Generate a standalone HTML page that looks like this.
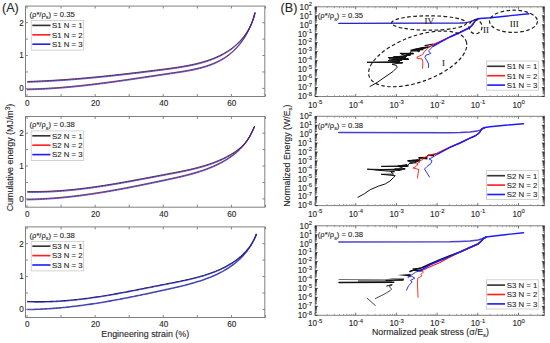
<!DOCTYPE html>
<html><head><meta charset="utf-8"><style>
html,body{margin:0;padding:0;background:#fff;width:550px;height:343px;overflow:hidden}
svg{display:block}
</style></head><body>
<svg width="550" height="343" viewBox="0 0 550 343"><style>text{stroke:#303030;stroke-width:0.12px;paint-order:stroke}</style><path d="M27.33 81.98 L28.94 81.93 L30.54 81.87 L32.13 81.81 L33.73 81.75 L35.32 81.68 L36.91 81.62 L38.5 81.55 L40.09 81.47 L41.67 81.4 L43.25 81.32 L44.83 81.24 L46.41 81.16 L47.99 81.08 L49.56 80.99 L51.13 80.9 L52.7 80.81 L54.27 80.71 L55.84 80.62 L57.4 80.52 L58.97 80.42 L60.53 80.32 L62.09 80.21 L63.65 80.1 L65.21 79.99 L66.76 79.88 L68.32 79.77 L69.87 79.65 L71.43 79.53 L72.98 79.41 L74.53 79.29 L76.08 79.16 L77.63 79.04 L79.18 78.91 L80.73 78.78 L82.27 78.65 L83.82 78.51 L85.37 78.38 L86.91 78.24 L88.46 78.1 L90 77.96 L91.55 77.81 L93.09 77.67 L94.63 77.52 L96.18 77.37 L97.72 77.22 L99.26 77.07 L100.81 76.92 L102.35 76.76 L103.9 76.6 L105.44 76.44 L106.98 76.28 L108.53 76.12 L110.07 75.96 L111.62 75.79 L113.16 75.63 L114.71 75.46 L116.25 75.29 L117.8 75.12 L119.35 74.95 L120.9 74.78 L122.45 74.6 L124 74.42 L125.55 74.25 L127.1 74.07 L128.65 73.89 L130.2 73.71 L131.76 73.53 L133.32 73.34 L134.87 73.16 L136.43 72.97 L137.99 72.78 L139.55 72.6 L141.12 72.41 L142.68 72.22 L144.25 72.03 L145.81 71.83 L147.38 71.64 L148.95 71.45 L150.53 71.25 L152.1 71.06 L153.68 70.86 L155.26 70.66 L156.84 70.46 L158.42 70.26 L160 70.06 L161.59 69.86 L163.18 69.66 L164.77 69.46 L166.36 69.25 L167.95 69.04 L169.54 68.83 L171.14 68.61 L172.73 68.39 L174.31 68.16 L175.9 67.93 L177.49 67.69 L179.07 67.44 L180.65 67.19 L182.23 66.92 L183.8 66.65 L185.37 66.38 L186.94 66.09 L188.5 65.79 L190.05 65.48 L191.6 65.16 L193.14 64.82 L194.68 64.48 L196.21 64.12 L197.73 63.75 L199.24 63.36 L200.75 62.96 L202.25 62.55 L203.73 62.12 L205.21 61.67 L206.68 61.21 L208.14 60.73 L209.59 60.23 L211.02 59.71 L212.45 59.17 L213.86 58.62 L215.26 58.04 L216.64 57.44 L218.02 56.83 L219.38 56.19 L220.72 55.52 L222.05 54.84 L223.37 54.13 L224.67 53.4 L225.96 52.64 L227.23 51.86 L228.48 51.05 L229.71 50.22 L230.93 49.36 L232.13 48.47 L233.31 47.56 L234.47 46.62 L235.6 45.64 L236.72 44.65 L237.82 43.62 L238.89 42.56 L239.94 41.47 L240.97 40.35 L241.98 39.2 L242.95 38.02 L243.91 36.81 L244.84 35.56 L245.74 34.28 L246.61 32.97 L247.46 31.63 L248.27 30.25 L249.06 28.83 L249.82 27.39 L250.55 25.9 L251.25 24.38 L251.91 22.82 L252.54 21.23 L253.15 19.6 L253.71 17.93 L254.25 16.22 L254.74 14.48 L255.21 12.69" fill="none" stroke="#c01818" stroke-width="1.0" opacity="0.85" transform="translate(0,-0.25)"/>
<path d="M27.33 81.98 L28.94 81.93 L30.54 81.87 L32.13 81.81 L33.73 81.75 L35.32 81.68 L36.91 81.62 L38.5 81.55 L40.09 81.47 L41.67 81.4 L43.25 81.32 L44.83 81.24 L46.41 81.16 L47.99 81.08 L49.56 80.99 L51.13 80.9 L52.7 80.81 L54.27 80.71 L55.84 80.62 L57.4 80.52 L58.97 80.42 L60.53 80.32 L62.09 80.21 L63.65 80.1 L65.21 79.99 L66.76 79.88 L68.32 79.77 L69.87 79.65 L71.43 79.53 L72.98 79.41 L74.53 79.29 L76.08 79.16 L77.63 79.04 L79.18 78.91 L80.73 78.78 L82.27 78.65 L83.82 78.51 L85.37 78.38 L86.91 78.24 L88.46 78.1 L90 77.96 L91.55 77.81 L93.09 77.67 L94.63 77.52 L96.18 77.37 L97.72 77.22 L99.26 77.07 L100.81 76.92 L102.35 76.76 L103.9 76.6 L105.44 76.44 L106.98 76.28 L108.53 76.12 L110.07 75.96 L111.62 75.79 L113.16 75.63 L114.71 75.46 L116.25 75.29 L117.8 75.12 L119.35 74.95 L120.9 74.78 L122.45 74.6 L124 74.42 L125.55 74.25 L127.1 74.07 L128.65 73.89 L130.2 73.71 L131.76 73.53 L133.32 73.34 L134.87 73.16 L136.43 72.97 L137.99 72.78 L139.55 72.6 L141.12 72.41 L142.68 72.22 L144.25 72.03 L145.81 71.83 L147.38 71.64 L148.95 71.45 L150.53 71.25 L152.1 71.06 L153.68 70.86 L155.26 70.66 L156.84 70.46 L158.42 70.26 L160 70.06 L161.59 69.86 L163.18 69.66 L164.77 69.46 L166.36 69.25 L167.95 69.04 L169.54 68.83 L171.14 68.61 L172.73 68.39 L174.31 68.16 L175.9 67.93 L177.49 67.69 L179.07 67.44 L180.65 67.19 L182.23 66.92 L183.8 66.65 L185.37 66.38 L186.94 66.09 L188.5 65.79 L190.05 65.48 L191.6 65.16 L193.14 64.82 L194.68 64.48 L196.21 64.12 L197.73 63.75 L199.24 63.36 L200.75 62.96 L202.25 62.55 L203.73 62.12 L205.21 61.67 L206.68 61.21 L208.14 60.73 L209.59 60.23 L211.02 59.71 L212.45 59.17 L213.86 58.62 L215.26 58.04 L216.64 57.44 L218.02 56.83 L219.38 56.19 L220.72 55.52 L222.05 54.84 L223.37 54.13 L224.67 53.4 L225.96 52.64 L227.23 51.86 L228.48 51.05 L229.71 50.22 L230.93 49.36 L232.13 48.47 L233.31 47.56 L234.47 46.62 L235.6 45.64 L236.72 44.65 L237.82 43.62 L238.89 42.56 L239.94 41.47 L240.97 40.35 L241.98 39.2 L242.95 38.02 L243.91 36.81 L244.84 35.56 L245.74 34.28 L246.61 32.97 L247.46 31.63 L248.27 30.25 L249.06 28.83 L249.82 27.39 L250.55 25.9 L251.25 24.38 L251.91 22.82 L252.54 21.23 L253.15 19.6 L253.71 17.93 L254.25 16.22 L254.74 14.48 L255.21 12.69" fill="none" stroke="#141414" stroke-width="0.8" opacity="0.75" transform="translate(0,-0.55)"/>
<path d="M27.33 81.98 L28.94 81.93 L30.54 81.87 L32.13 81.81 L33.73 81.75 L35.32 81.68 L36.91 81.62 L38.5 81.55 L40.09 81.47 L41.67 81.4 L43.25 81.32 L44.83 81.24 L46.41 81.16 L47.99 81.08 L49.56 80.99 L51.13 80.9 L52.7 80.81 L54.27 80.71 L55.84 80.62 L57.4 80.52 L58.97 80.42 L60.53 80.32 L62.09 80.21 L63.65 80.1 L65.21 79.99 L66.76 79.88 L68.32 79.77 L69.87 79.65 L71.43 79.53 L72.98 79.41 L74.53 79.29 L76.08 79.16 L77.63 79.04 L79.18 78.91 L80.73 78.78 L82.27 78.65 L83.82 78.51 L85.37 78.38 L86.91 78.24 L88.46 78.1 L90 77.96 L91.55 77.81 L93.09 77.67 L94.63 77.52 L96.18 77.37 L97.72 77.22 L99.26 77.07 L100.81 76.92 L102.35 76.76 L103.9 76.6 L105.44 76.44 L106.98 76.28 L108.53 76.12 L110.07 75.96 L111.62 75.79 L113.16 75.63 L114.71 75.46 L116.25 75.29 L117.8 75.12 L119.35 74.95 L120.9 74.78 L122.45 74.6 L124 74.42 L125.55 74.25 L127.1 74.07 L128.65 73.89 L130.2 73.71 L131.76 73.53 L133.32 73.34 L134.87 73.16 L136.43 72.97 L137.99 72.78 L139.55 72.6 L141.12 72.41 L142.68 72.22 L144.25 72.03 L145.81 71.83 L147.38 71.64 L148.95 71.45 L150.53 71.25 L152.1 71.06 L153.68 70.86 L155.26 70.66 L156.84 70.46 L158.42 70.26 L160 70.06 L161.59 69.86 L163.18 69.66 L164.77 69.46 L166.36 69.25 L167.95 69.04 L169.54 68.83 L171.14 68.61 L172.73 68.39 L174.31 68.16 L175.9 67.93 L177.49 67.69 L179.07 67.44 L180.65 67.19 L182.23 66.92 L183.8 66.65 L185.37 66.38 L186.94 66.09 L188.5 65.79 L190.05 65.48 L191.6 65.16 L193.14 64.82 L194.68 64.48 L196.21 64.12 L197.73 63.75 L199.24 63.36 L200.75 62.96 L202.25 62.55 L203.73 62.12 L205.21 61.67 L206.68 61.21 L208.14 60.73 L209.59 60.23 L211.02 59.71 L212.45 59.17 L213.86 58.62 L215.26 58.04 L216.64 57.44 L218.02 56.83 L219.38 56.19 L220.72 55.52 L222.05 54.84 L223.37 54.13 L224.67 53.4 L225.96 52.64 L227.23 51.86 L228.48 51.05 L229.71 50.22 L230.93 49.36 L232.13 48.47 L233.31 47.56 L234.47 46.62 L235.6 45.64 L236.72 44.65 L237.82 43.62 L238.89 42.56 L239.94 41.47 L240.97 40.35 L241.98 39.2 L242.95 38.02 L243.91 36.81 L244.84 35.56 L245.74 34.28 L246.61 32.97 L247.46 31.63 L248.27 30.25 L249.06 28.83 L249.82 27.39 L250.55 25.9 L251.25 24.38 L251.91 22.82 L252.54 21.23 L253.15 19.6 L253.71 17.93 L254.25 16.22 L254.74 14.48 L255.21 12.69" fill="none" stroke="#2a2ae8" stroke-width="1.0" opacity="0.8" transform="translate(0,0.35)"/>
<path d="M26.79 89.47 L28.36 89.44 L29.93 89.4 L31.5 89.36 L33.07 89.31 L34.63 89.26 L36.19 89.21 L37.75 89.15 L39.31 89.08 L40.86 89.02 L42.42 88.94 L43.97 88.87 L45.52 88.79 L47.07 88.7 L48.61 88.61 L50.16 88.52 L51.7 88.42 L53.24 88.32 L54.78 88.22 L56.32 88.11 L57.86 88 L59.4 87.88 L60.93 87.76 L62.46 87.64 L63.99 87.51 L65.53 87.38 L67.06 87.25 L68.58 87.12 L70.11 86.98 L71.64 86.83 L73.16 86.69 L74.69 86.54 L76.21 86.39 L77.73 86.23 L79.25 86.08 L80.77 85.92 L82.29 85.75 L83.81 85.59 L85.33 85.42 L86.85 85.25 L88.37 85.07 L89.88 84.9 L91.4 84.72 L92.91 84.54 L94.43 84.36 L95.94 84.17 L97.46 83.98 L98.97 83.79 L100.48 83.6 L102 83.41 L103.51 83.21 L105.02 83.01 L106.53 82.81 L108.05 82.61 L109.56 82.41 L111.07 82.21 L112.58 82 L114.1 81.79 L115.61 81.58 L117.12 81.37 L118.64 81.16 L120.15 80.94 L121.66 80.73 L123.18 80.51 L124.69 80.3 L126.2 80.08 L127.72 79.86 L129.23 79.64 L130.75 79.42 L132.27 79.19 L133.78 78.97 L135.3 78.75 L136.82 78.52 L138.34 78.3 L139.86 78.07 L141.38 77.84 L142.9 77.62 L144.42 77.39 L145.94 77.16 L147.47 76.93 L148.99 76.7 L150.52 76.48 L152.05 76.25 L153.58 76.02 L155.11 75.79 L156.64 75.56 L158.17 75.33 L159.7 75.1 L161.24 74.87 L162.77 74.65 L164.31 74.42 L165.85 74.19 L167.39 73.96 L168.93 73.74 L170.47 73.51 L172.02 73.29 L173.56 73.06 L175.11 72.83 L176.65 72.6 L178.2 72.37 L179.74 72.13 L181.29 71.89 L182.83 71.64 L184.36 71.39 L185.9 71.12 L187.43 70.85 L188.96 70.57 L190.48 70.28 L191.99 69.99 L193.51 69.67 L195.01 69.35 L196.51 69.01 L198 68.66 L199.48 68.29 L200.96 67.91 L202.43 67.51 L203.88 67.1 L205.33 66.66 L206.77 66.21 L208.2 65.73 L209.61 65.24 L211.01 64.72 L212.41 64.18 L213.79 63.62 L215.15 63.03 L216.5 62.42 L217.84 61.78 L219.16 61.11 L220.47 60.42 L221.76 59.7 L223.04 58.95 L224.3 58.17 L225.54 57.36 L226.76 56.51 L227.97 55.63 L229.16 54.72 L230.33 53.78 L231.47 52.81 L232.6 51.81 L233.71 50.78 L234.8 49.72 L235.86 48.63 L236.91 47.51 L237.93 46.37 L238.93 45.21 L239.91 44.01 L240.86 42.8 L241.79 41.56 L242.69 40.3 L243.57 39.02 L244.43 37.72 L245.26 36.39 L246.06 35.05 L246.84 33.69 L247.59 32.32 L248.32 30.92 L249.01 29.51 L249.68 28.09 L250.32 26.65 L250.93 25.19 L251.51 23.73 L252.06 22.25 L252.58 20.76 L253.07 19.26 L253.53 17.75 L253.96 16.24 L254.36 14.71 L254.72 13.18" fill="none" stroke="#c01818" stroke-width="1.0" opacity="0.85" transform="translate(0,-0.25)"/>
<path d="M26.79 89.47 L28.36 89.44 L29.93 89.4 L31.5 89.36 L33.07 89.31 L34.63 89.26 L36.19 89.21 L37.75 89.15 L39.31 89.08 L40.86 89.02 L42.42 88.94 L43.97 88.87 L45.52 88.79 L47.07 88.7 L48.61 88.61 L50.16 88.52 L51.7 88.42 L53.24 88.32 L54.78 88.22 L56.32 88.11 L57.86 88 L59.4 87.88 L60.93 87.76 L62.46 87.64 L63.99 87.51 L65.53 87.38 L67.06 87.25 L68.58 87.12 L70.11 86.98 L71.64 86.83 L73.16 86.69 L74.69 86.54 L76.21 86.39 L77.73 86.23 L79.25 86.08 L80.77 85.92 L82.29 85.75 L83.81 85.59 L85.33 85.42 L86.85 85.25 L88.37 85.07 L89.88 84.9 L91.4 84.72 L92.91 84.54 L94.43 84.36 L95.94 84.17 L97.46 83.98 L98.97 83.79 L100.48 83.6 L102 83.41 L103.51 83.21 L105.02 83.01 L106.53 82.81 L108.05 82.61 L109.56 82.41 L111.07 82.21 L112.58 82 L114.1 81.79 L115.61 81.58 L117.12 81.37 L118.64 81.16 L120.15 80.94 L121.66 80.73 L123.18 80.51 L124.69 80.3 L126.2 80.08 L127.72 79.86 L129.23 79.64 L130.75 79.42 L132.27 79.19 L133.78 78.97 L135.3 78.75 L136.82 78.52 L138.34 78.3 L139.86 78.07 L141.38 77.84 L142.9 77.62 L144.42 77.39 L145.94 77.16 L147.47 76.93 L148.99 76.7 L150.52 76.48 L152.05 76.25 L153.58 76.02 L155.11 75.79 L156.64 75.56 L158.17 75.33 L159.7 75.1 L161.24 74.87 L162.77 74.65 L164.31 74.42 L165.85 74.19 L167.39 73.96 L168.93 73.74 L170.47 73.51 L172.02 73.29 L173.56 73.06 L175.11 72.83 L176.65 72.6 L178.2 72.37 L179.74 72.13 L181.29 71.89 L182.83 71.64 L184.36 71.39 L185.9 71.12 L187.43 70.85 L188.96 70.57 L190.48 70.28 L191.99 69.99 L193.51 69.67 L195.01 69.35 L196.51 69.01 L198 68.66 L199.48 68.29 L200.96 67.91 L202.43 67.51 L203.88 67.1 L205.33 66.66 L206.77 66.21 L208.2 65.73 L209.61 65.24 L211.01 64.72 L212.41 64.18 L213.79 63.62 L215.15 63.03 L216.5 62.42 L217.84 61.78 L219.16 61.11 L220.47 60.42 L221.76 59.7 L223.04 58.95 L224.3 58.17 L225.54 57.36 L226.76 56.51 L227.97 55.63 L229.16 54.72 L230.33 53.78 L231.47 52.81 L232.6 51.81 L233.71 50.78 L234.8 49.72 L235.86 48.63 L236.91 47.51 L237.93 46.37 L238.93 45.21 L239.91 44.01 L240.86 42.8 L241.79 41.56 L242.69 40.3 L243.57 39.02 L244.43 37.72 L245.26 36.39 L246.06 35.05 L246.84 33.69 L247.59 32.32 L248.32 30.92 L249.01 29.51 L249.68 28.09 L250.32 26.65 L250.93 25.19 L251.51 23.73 L252.06 22.25 L252.58 20.76 L253.07 19.26 L253.53 17.75 L253.96 16.24 L254.36 14.71 L254.72 13.18" fill="none" stroke="#141414" stroke-width="0.8" opacity="0.55" transform="translate(0,-0.55)"/>
<path d="M26.79 89.47 L28.36 89.44 L29.93 89.4 L31.5 89.36 L33.07 89.31 L34.63 89.26 L36.19 89.21 L37.75 89.15 L39.31 89.08 L40.86 89.02 L42.42 88.94 L43.97 88.87 L45.52 88.79 L47.07 88.7 L48.61 88.61 L50.16 88.52 L51.7 88.42 L53.24 88.32 L54.78 88.22 L56.32 88.11 L57.86 88 L59.4 87.88 L60.93 87.76 L62.46 87.64 L63.99 87.51 L65.53 87.38 L67.06 87.25 L68.58 87.12 L70.11 86.98 L71.64 86.83 L73.16 86.69 L74.69 86.54 L76.21 86.39 L77.73 86.23 L79.25 86.08 L80.77 85.92 L82.29 85.75 L83.81 85.59 L85.33 85.42 L86.85 85.25 L88.37 85.07 L89.88 84.9 L91.4 84.72 L92.91 84.54 L94.43 84.36 L95.94 84.17 L97.46 83.98 L98.97 83.79 L100.48 83.6 L102 83.41 L103.51 83.21 L105.02 83.01 L106.53 82.81 L108.05 82.61 L109.56 82.41 L111.07 82.21 L112.58 82 L114.1 81.79 L115.61 81.58 L117.12 81.37 L118.64 81.16 L120.15 80.94 L121.66 80.73 L123.18 80.51 L124.69 80.3 L126.2 80.08 L127.72 79.86 L129.23 79.64 L130.75 79.42 L132.27 79.19 L133.78 78.97 L135.3 78.75 L136.82 78.52 L138.34 78.3 L139.86 78.07 L141.38 77.84 L142.9 77.62 L144.42 77.39 L145.94 77.16 L147.47 76.93 L148.99 76.7 L150.52 76.48 L152.05 76.25 L153.58 76.02 L155.11 75.79 L156.64 75.56 L158.17 75.33 L159.7 75.1 L161.24 74.87 L162.77 74.65 L164.31 74.42 L165.85 74.19 L167.39 73.96 L168.93 73.74 L170.47 73.51 L172.02 73.29 L173.56 73.06 L175.11 72.83 L176.65 72.6 L178.2 72.37 L179.74 72.13 L181.29 71.89 L182.83 71.64 L184.36 71.39 L185.9 71.12 L187.43 70.85 L188.96 70.57 L190.48 70.28 L191.99 69.99 L193.51 69.67 L195.01 69.35 L196.51 69.01 L198 68.66 L199.48 68.29 L200.96 67.91 L202.43 67.51 L203.88 67.1 L205.33 66.66 L206.77 66.21 L208.2 65.73 L209.61 65.24 L211.01 64.72 L212.41 64.18 L213.79 63.62 L215.15 63.03 L216.5 62.42 L217.84 61.78 L219.16 61.11 L220.47 60.42 L221.76 59.7 L223.04 58.95 L224.3 58.17 L225.54 57.36 L226.76 56.51 L227.97 55.63 L229.16 54.72 L230.33 53.78 L231.47 52.81 L232.6 51.81 L233.71 50.78 L234.8 49.72 L235.86 48.63 L236.91 47.51 L237.93 46.37 L238.93 45.21 L239.91 44.01 L240.86 42.8 L241.79 41.56 L242.69 40.3 L243.57 39.02 L244.43 37.72 L245.26 36.39 L246.06 35.05 L246.84 33.69 L247.59 32.32 L248.32 30.92 L249.01 29.51 L249.68 28.09 L250.32 26.65 L250.93 25.19 L251.51 23.73 L252.06 22.25 L252.58 20.76 L253.07 19.26 L253.53 17.75 L253.96 16.24 L254.36 14.71 L254.72 13.18" fill="none" stroke="#2a2ae8" stroke-width="1.0" opacity="0.8" transform="translate(0,0.35)"/>
<rect x="25.5" y="6.1" width="239.3" height="90.4" fill="none" stroke="#808080" stroke-width="1"/>
<path d="M27 96.5 v-2.4 M27 6.1 v2.4" stroke="#808080" stroke-width="1"/>
<path d="M61.07 96.5 v-2.4 M61.07 6.1 v2.4" stroke="#808080" stroke-width="1"/>
<path d="M95.14 96.5 v-2.4 M95.14 6.1 v2.4" stroke="#808080" stroke-width="1"/>
<path d="M129.21 96.5 v-2.4 M129.21 6.1 v2.4" stroke="#808080" stroke-width="1"/>
<path d="M163.28 96.5 v-2.4 M163.28 6.1 v2.4" stroke="#808080" stroke-width="1"/>
<path d="M197.35 96.5 v-2.4 M197.35 6.1 v2.4" stroke="#808080" stroke-width="1"/>
<path d="M231.42 96.5 v-2.4 M231.42 6.1 v2.4" stroke="#808080" stroke-width="1"/>
<path d="M265.49 96.5 v-2.4 M265.49 6.1 v2.4" stroke="#808080" stroke-width="1"/>
<path d="M25.5 88.4 h2.4 M264.8 88.4 h-2.4" stroke="#808080" stroke-width="1"/>
<path d="M25.5 71.98 h2.4 M264.8 71.98 h-2.4" stroke="#808080" stroke-width="1"/>
<path d="M25.5 55.55 h2.4 M264.8 55.55 h-2.4" stroke="#808080" stroke-width="1"/>
<path d="M25.5 39.12 h2.4 M264.8 39.12 h-2.4" stroke="#808080" stroke-width="1"/>
<path d="M25.5 22.7 h2.4 M264.8 22.7 h-2.4" stroke="#808080" stroke-width="1"/>
<text x="27.4" y="106.2" font-size="8.2" text-anchor="middle" font-family='"Liberation Sans", sans-serif' fill="#262626" >0</text>
<text x="95.54" y="106.2" font-size="8.2" text-anchor="middle" font-family='"Liberation Sans", sans-serif' fill="#262626" >20</text>
<text x="163.68" y="106.2" font-size="8.2" text-anchor="middle" font-family='"Liberation Sans", sans-serif' fill="#262626" >40</text>
<text x="231.82" y="106.2" font-size="8.2" text-anchor="middle" font-family='"Liberation Sans", sans-serif' fill="#262626" >60</text>
<text x="23.8" y="91.3" font-size="8.2" text-anchor="end" font-family='"Liberation Sans", sans-serif' fill="#262626" >0</text>
<text x="23.8" y="58.45" font-size="8.2" text-anchor="end" font-family='"Liberation Sans", sans-serif' fill="#262626" >1</text>
<text x="23.8" y="25.6" font-size="8.2" text-anchor="end" font-family='"Liberation Sans", sans-serif' fill="#262626" >2</text>
<text x="29.5" y="17" font-size="7.65" font-family='"Liberation Sans", sans-serif' fill="#262626">(ρ*/ρ<tspan font-size="5.35" dy="2.29">s</tspan><tspan dy="-2.29">) = 0.35</tspan></text>
<rect x="31.2" y="20.5" width="52.5" height="29.6" fill="#fff" stroke="#c8c8c8" stroke-width="0.8"/>
<path d="M32.3 25.4 H50.5" stroke="#333333" stroke-width="1.65"/>
<text x="52" y="28.2" font-size="7.8" text-anchor="start" font-family='"Liberation Sans", sans-serif' fill="#262626" >S1 N = 1</text>
<path d="M32.3 34.8 H50.5" stroke="#ff2020" stroke-width="1.65"/>
<text x="52" y="37.6" font-size="7.8" text-anchor="start" font-family='"Liberation Sans", sans-serif' fill="#262626" >S1 N = 2</text>
<path d="M32.3 44.2 H50.5" stroke="#2020ff" stroke-width="1.65"/>
<text x="52" y="47" font-size="7.8" text-anchor="start" font-family='"Liberation Sans", sans-serif' fill="#262626" >S1 N = 3</text>
<path d="M27.33 192 L28.88 192.02 L30.44 192.04 L32 192.05 L33.55 192.05 L35.1 192.05 L36.65 192.03 L38.19 192.02 L39.74 191.99 L41.28 191.96 L42.83 191.92 L44.37 191.87 L45.91 191.82 L47.44 191.76 L48.98 191.7 L50.51 191.63 L52.04 191.55 L53.57 191.47 L55.1 191.38 L56.63 191.29 L58.16 191.19 L59.68 191.08 L61.21 190.97 L62.73 190.85 L64.25 190.73 L65.77 190.6 L67.29 190.47 L68.81 190.33 L70.33 190.19 L71.84 190.04 L73.36 189.89 L74.87 189.73 L76.38 189.57 L77.9 189.4 L79.41 189.23 L80.92 189.05 L82.43 188.87 L83.94 188.68 L85.44 188.5 L86.95 188.3 L88.46 188.11 L89.96 187.9 L91.47 187.7 L92.97 187.49 L94.47 187.28 L95.98 187.06 L97.48 186.84 L98.98 186.62 L100.48 186.4 L101.99 186.17 L103.49 185.93 L104.99 185.7 L106.49 185.46 L107.99 185.22 L109.49 184.98 L110.99 184.73 L112.49 184.48 L113.99 184.23 L115.49 183.97 L116.98 183.72 L118.48 183.46 L119.98 183.2 L121.48 182.93 L122.98 182.67 L124.48 182.4 L125.98 182.13 L127.48 181.86 L128.98 181.59 L130.48 181.32 L131.98 181.04 L133.48 180.77 L134.98 180.49 L136.48 180.21 L137.98 179.93 L139.49 179.65 L140.99 179.37 L142.49 179.09 L143.99 178.8 L145.5 178.52 L147 178.23 L148.51 177.95 L150.01 177.66 L151.52 177.38 L153.03 177.09 L154.54 176.81 L156.05 176.52 L157.56 176.23 L159.07 175.95 L160.58 175.66 L162.09 175.38 L163.6 175.09 L165.12 174.81 L166.63 174.52 L168.15 174.24 L169.67 173.95 L171.18 173.67 L172.7 173.38 L174.22 173.09 L175.73 172.8 L177.25 172.51 L178.76 172.21 L180.27 171.91 L181.79 171.6 L183.3 171.29 L184.8 170.97 L186.31 170.65 L187.81 170.32 L189.31 169.99 L190.8 169.65 L192.3 169.3 L193.78 168.94 L195.27 168.57 L196.75 168.19 L198.23 167.81 L199.7 167.41 L201.16 167 L202.63 166.58 L204.08 166.15 L205.53 165.71 L206.97 165.26 L208.41 164.79 L209.84 164.31 L211.27 163.81 L212.68 163.3 L214.09 162.77 L215.5 162.23 L216.89 161.68 L218.28 161.1 L219.65 160.51 L221.02 159.9 L222.38 159.28 L223.74 158.63 L225.08 157.97 L226.41 157.28 L227.73 156.58 L229.04 155.86 L230.35 155.11 L231.63 154.35 L232.91 153.56 L234.17 152.74 L235.41 151.9 L236.63 151.03 L237.82 150.13 L239 149.19 L240.14 148.23 L241.25 147.23 L242.34 146.2 L243.39 145.13 L244.4 144.02 L245.38 142.86 L246.31 141.67 L247.21 140.44 L248.06 139.16 L248.87 137.84 L249.66 136.5 L250.41 135.12 L251.14 133.73 L251.85 132.31 L252.54 130.89 L253.23 129.46 L253.91 128.02 L254.59 126.6" fill="none" stroke="#c01818" stroke-width="1.0" opacity="0.85" transform="translate(0,-0.25)"/>
<path d="M27.33 192 L28.88 192.02 L30.44 192.04 L32 192.05 L33.55 192.05 L35.1 192.05 L36.65 192.03 L38.19 192.02 L39.74 191.99 L41.28 191.96 L42.83 191.92 L44.37 191.87 L45.91 191.82 L47.44 191.76 L48.98 191.7 L50.51 191.63 L52.04 191.55 L53.57 191.47 L55.1 191.38 L56.63 191.29 L58.16 191.19 L59.68 191.08 L61.21 190.97 L62.73 190.85 L64.25 190.73 L65.77 190.6 L67.29 190.47 L68.81 190.33 L70.33 190.19 L71.84 190.04 L73.36 189.89 L74.87 189.73 L76.38 189.57 L77.9 189.4 L79.41 189.23 L80.92 189.05 L82.43 188.87 L83.94 188.68 L85.44 188.5 L86.95 188.3 L88.46 188.11 L89.96 187.9 L91.47 187.7 L92.97 187.49 L94.47 187.28 L95.98 187.06 L97.48 186.84 L98.98 186.62 L100.48 186.4 L101.99 186.17 L103.49 185.93 L104.99 185.7 L106.49 185.46 L107.99 185.22 L109.49 184.98 L110.99 184.73 L112.49 184.48 L113.99 184.23 L115.49 183.97 L116.98 183.72 L118.48 183.46 L119.98 183.2 L121.48 182.93 L122.98 182.67 L124.48 182.4 L125.98 182.13 L127.48 181.86 L128.98 181.59 L130.48 181.32 L131.98 181.04 L133.48 180.77 L134.98 180.49 L136.48 180.21 L137.98 179.93 L139.49 179.65 L140.99 179.37 L142.49 179.09 L143.99 178.8 L145.5 178.52 L147 178.23 L148.51 177.95 L150.01 177.66 L151.52 177.38 L153.03 177.09 L154.54 176.81 L156.05 176.52 L157.56 176.23 L159.07 175.95 L160.58 175.66 L162.09 175.38 L163.6 175.09 L165.12 174.81 L166.63 174.52 L168.15 174.24 L169.67 173.95 L171.18 173.67 L172.7 173.38 L174.22 173.09 L175.73 172.8 L177.25 172.51 L178.76 172.21 L180.27 171.91 L181.79 171.6 L183.3 171.29 L184.8 170.97 L186.31 170.65 L187.81 170.32 L189.31 169.99 L190.8 169.65 L192.3 169.3 L193.78 168.94 L195.27 168.57 L196.75 168.19 L198.23 167.81 L199.7 167.41 L201.16 167 L202.63 166.58 L204.08 166.15 L205.53 165.71 L206.97 165.26 L208.41 164.79 L209.84 164.31 L211.27 163.81 L212.68 163.3 L214.09 162.77 L215.5 162.23 L216.89 161.68 L218.28 161.1 L219.65 160.51 L221.02 159.9 L222.38 159.28 L223.74 158.63 L225.08 157.97 L226.41 157.28 L227.73 156.58 L229.04 155.86 L230.35 155.11 L231.63 154.35 L232.91 153.56 L234.17 152.74 L235.41 151.9 L236.63 151.03 L237.82 150.13 L239 149.19 L240.14 148.23 L241.25 147.23 L242.34 146.2 L243.39 145.13 L244.4 144.02 L245.38 142.86 L246.31 141.67 L247.21 140.44 L248.06 139.16 L248.87 137.84 L249.66 136.5 L250.41 135.12 L251.14 133.73 L251.85 132.31 L252.54 130.89 L253.23 129.46 L253.91 128.02 L254.59 126.6" fill="none" stroke="#141414" stroke-width="0.8" opacity="0.75" transform="translate(0,-0.55)"/>
<path d="M27.33 192 L28.88 192.02 L30.44 192.04 L32 192.05 L33.55 192.05 L35.1 192.05 L36.65 192.03 L38.19 192.02 L39.74 191.99 L41.28 191.96 L42.83 191.92 L44.37 191.87 L45.91 191.82 L47.44 191.76 L48.98 191.7 L50.51 191.63 L52.04 191.55 L53.57 191.47 L55.1 191.38 L56.63 191.29 L58.16 191.19 L59.68 191.08 L61.21 190.97 L62.73 190.85 L64.25 190.73 L65.77 190.6 L67.29 190.47 L68.81 190.33 L70.33 190.19 L71.84 190.04 L73.36 189.89 L74.87 189.73 L76.38 189.57 L77.9 189.4 L79.41 189.23 L80.92 189.05 L82.43 188.87 L83.94 188.68 L85.44 188.5 L86.95 188.3 L88.46 188.11 L89.96 187.9 L91.47 187.7 L92.97 187.49 L94.47 187.28 L95.98 187.06 L97.48 186.84 L98.98 186.62 L100.48 186.4 L101.99 186.17 L103.49 185.93 L104.99 185.7 L106.49 185.46 L107.99 185.22 L109.49 184.98 L110.99 184.73 L112.49 184.48 L113.99 184.23 L115.49 183.97 L116.98 183.72 L118.48 183.46 L119.98 183.2 L121.48 182.93 L122.98 182.67 L124.48 182.4 L125.98 182.13 L127.48 181.86 L128.98 181.59 L130.48 181.32 L131.98 181.04 L133.48 180.77 L134.98 180.49 L136.48 180.21 L137.98 179.93 L139.49 179.65 L140.99 179.37 L142.49 179.09 L143.99 178.8 L145.5 178.52 L147 178.23 L148.51 177.95 L150.01 177.66 L151.52 177.38 L153.03 177.09 L154.54 176.81 L156.05 176.52 L157.56 176.23 L159.07 175.95 L160.58 175.66 L162.09 175.38 L163.6 175.09 L165.12 174.81 L166.63 174.52 L168.15 174.24 L169.67 173.95 L171.18 173.67 L172.7 173.38 L174.22 173.09 L175.73 172.8 L177.25 172.51 L178.76 172.21 L180.27 171.91 L181.79 171.6 L183.3 171.29 L184.8 170.97 L186.31 170.65 L187.81 170.32 L189.31 169.99 L190.8 169.65 L192.3 169.3 L193.78 168.94 L195.27 168.57 L196.75 168.19 L198.23 167.81 L199.7 167.41 L201.16 167 L202.63 166.58 L204.08 166.15 L205.53 165.71 L206.97 165.26 L208.41 164.79 L209.84 164.31 L211.27 163.81 L212.68 163.3 L214.09 162.77 L215.5 162.23 L216.89 161.68 L218.28 161.1 L219.65 160.51 L221.02 159.9 L222.38 159.28 L223.74 158.63 L225.08 157.97 L226.41 157.28 L227.73 156.58 L229.04 155.86 L230.35 155.11 L231.63 154.35 L232.91 153.56 L234.17 152.74 L235.41 151.9 L236.63 151.03 L237.82 150.13 L239 149.19 L240.14 148.23 L241.25 147.23 L242.34 146.2 L243.39 145.13 L244.4 144.02 L245.38 142.86 L246.31 141.67 L247.21 140.44 L248.06 139.16 L248.87 137.84 L249.66 136.5 L250.41 135.12 L251.14 133.73 L251.85 132.31 L252.54 130.89 L253.23 129.46 L253.91 128.02 L254.59 126.6" fill="none" stroke="#2a2ae8" stroke-width="1.0" opacity="0.8" transform="translate(0,0.35)"/>
<path d="M26.84 199.58 L28.41 199.55 L29.99 199.52 L31.56 199.49 L33.13 199.44 L34.7 199.39 L36.27 199.34 L37.84 199.28 L39.4 199.22 L40.96 199.14 L42.52 199.07 L44.08 198.99 L45.64 198.9 L47.19 198.8 L48.75 198.71 L50.3 198.6 L51.85 198.49 L53.4 198.38 L54.95 198.26 L56.49 198.14 L58.04 198.01 L59.58 197.87 L61.12 197.73 L62.66 197.59 L64.2 197.44 L65.74 197.29 L67.28 197.13 L68.81 196.97 L70.35 196.8 L71.88 196.63 L73.42 196.45 L74.95 196.27 L76.48 196.09 L78.01 195.9 L79.54 195.71 L81.06 195.51 L82.59 195.31 L84.12 195.11 L85.64 194.9 L87.17 194.69 L88.69 194.47 L90.21 194.25 L91.73 194.03 L93.26 193.8 L94.78 193.57 L96.3 193.34 L97.82 193.1 L99.34 192.86 L100.86 192.62 L102.37 192.37 L103.89 192.12 L105.41 191.87 L106.93 191.61 L108.44 191.36 L109.96 191.09 L111.48 190.83 L112.99 190.56 L114.51 190.29 L116.02 190.02 L117.54 189.75 L119.06 189.47 L120.57 189.19 L122.09 188.91 L123.6 188.62 L125.12 188.34 L126.63 188.05 L128.15 187.76 L129.66 187.46 L131.18 187.17 L132.7 186.87 L134.21 186.57 L135.73 186.27 L137.25 185.97 L138.76 185.66 L140.28 185.36 L141.8 185.05 L143.32 184.74 L144.84 184.43 L146.36 184.12 L147.88 183.81 L149.4 183.49 L150.92 183.18 L152.44 182.86 L153.96 182.54 L155.49 182.23 L157.01 181.91 L158.53 181.59 L160.06 181.26 L161.58 180.94 L163.11 180.62 L164.64 180.3 L166.17 179.97 L167.7 179.65 L169.23 179.32 L170.76 178.99 L172.29 178.66 L173.82 178.33 L175.34 177.99 L176.87 177.65 L178.4 177.3 L179.92 176.95 L181.44 176.59 L182.96 176.23 L184.48 175.86 L185.99 175.49 L187.5 175.1 L189.01 174.71 L190.51 174.31 L192.01 173.9 L193.5 173.48 L194.99 173.05 L196.47 172.61 L197.95 172.16 L199.43 171.7 L200.89 171.22 L202.35 170.74 L203.81 170.24 L205.25 169.72 L206.69 169.19 L208.12 168.65 L209.55 168.09 L210.96 167.52 L212.37 166.93 L213.77 166.32 L215.16 165.7 L216.54 165.06 L217.91 164.4 L219.27 163.72 L220.62 163.02 L221.96 162.3 L223.29 161.57 L224.6 160.81 L225.91 160.03 L227.2 159.23 L228.48 158.41 L229.75 157.56 L231.01 156.69 L232.25 155.8 L233.48 154.88 L234.68 153.94 L235.87 152.97 L237.04 151.98 L238.19 150.96 L239.31 149.92 L240.41 148.85 L241.48 147.75 L242.53 146.63 L243.54 145.47 L244.53 144.29 L245.48 143.08 L246.4 141.84 L247.29 140.57 L248.14 139.27 L248.95 137.95 L249.74 136.6 L250.49 135.22 L251.22 133.83 L251.92 132.41 L252.6 130.98 L253.25 129.53 L253.88 128.07 L254.49 126.6" fill="none" stroke="#c01818" stroke-width="1.0" opacity="0.85" transform="translate(0,-0.25)"/>
<path d="M26.84 199.58 L28.41 199.55 L29.99 199.52 L31.56 199.49 L33.13 199.44 L34.7 199.39 L36.27 199.34 L37.84 199.28 L39.4 199.22 L40.96 199.14 L42.52 199.07 L44.08 198.99 L45.64 198.9 L47.19 198.8 L48.75 198.71 L50.3 198.6 L51.85 198.49 L53.4 198.38 L54.95 198.26 L56.49 198.14 L58.04 198.01 L59.58 197.87 L61.12 197.73 L62.66 197.59 L64.2 197.44 L65.74 197.29 L67.28 197.13 L68.81 196.97 L70.35 196.8 L71.88 196.63 L73.42 196.45 L74.95 196.27 L76.48 196.09 L78.01 195.9 L79.54 195.71 L81.06 195.51 L82.59 195.31 L84.12 195.11 L85.64 194.9 L87.17 194.69 L88.69 194.47 L90.21 194.25 L91.73 194.03 L93.26 193.8 L94.78 193.57 L96.3 193.34 L97.82 193.1 L99.34 192.86 L100.86 192.62 L102.37 192.37 L103.89 192.12 L105.41 191.87 L106.93 191.61 L108.44 191.36 L109.96 191.09 L111.48 190.83 L112.99 190.56 L114.51 190.29 L116.02 190.02 L117.54 189.75 L119.06 189.47 L120.57 189.19 L122.09 188.91 L123.6 188.62 L125.12 188.34 L126.63 188.05 L128.15 187.76 L129.66 187.46 L131.18 187.17 L132.7 186.87 L134.21 186.57 L135.73 186.27 L137.25 185.97 L138.76 185.66 L140.28 185.36 L141.8 185.05 L143.32 184.74 L144.84 184.43 L146.36 184.12 L147.88 183.81 L149.4 183.49 L150.92 183.18 L152.44 182.86 L153.96 182.54 L155.49 182.23 L157.01 181.91 L158.53 181.59 L160.06 181.26 L161.58 180.94 L163.11 180.62 L164.64 180.3 L166.17 179.97 L167.7 179.65 L169.23 179.32 L170.76 178.99 L172.29 178.66 L173.82 178.33 L175.34 177.99 L176.87 177.65 L178.4 177.3 L179.92 176.95 L181.44 176.59 L182.96 176.23 L184.48 175.86 L185.99 175.49 L187.5 175.1 L189.01 174.71 L190.51 174.31 L192.01 173.9 L193.5 173.48 L194.99 173.05 L196.47 172.61 L197.95 172.16 L199.43 171.7 L200.89 171.22 L202.35 170.74 L203.81 170.24 L205.25 169.72 L206.69 169.19 L208.12 168.65 L209.55 168.09 L210.96 167.52 L212.37 166.93 L213.77 166.32 L215.16 165.7 L216.54 165.06 L217.91 164.4 L219.27 163.72 L220.62 163.02 L221.96 162.3 L223.29 161.57 L224.6 160.81 L225.91 160.03 L227.2 159.23 L228.48 158.41 L229.75 157.56 L231.01 156.69 L232.25 155.8 L233.48 154.88 L234.68 153.94 L235.87 152.97 L237.04 151.98 L238.19 150.96 L239.31 149.92 L240.41 148.85 L241.48 147.75 L242.53 146.63 L243.54 145.47 L244.53 144.29 L245.48 143.08 L246.4 141.84 L247.29 140.57 L248.14 139.27 L248.95 137.95 L249.74 136.6 L250.49 135.22 L251.22 133.83 L251.92 132.41 L252.6 130.98 L253.25 129.53 L253.88 128.07 L254.49 126.6" fill="none" stroke="#141414" stroke-width="0.8" opacity="0.55" transform="translate(0,-0.55)"/>
<path d="M26.84 199.58 L28.41 199.55 L29.99 199.52 L31.56 199.49 L33.13 199.44 L34.7 199.39 L36.27 199.34 L37.84 199.28 L39.4 199.22 L40.96 199.14 L42.52 199.07 L44.08 198.99 L45.64 198.9 L47.19 198.8 L48.75 198.71 L50.3 198.6 L51.85 198.49 L53.4 198.38 L54.95 198.26 L56.49 198.14 L58.04 198.01 L59.58 197.87 L61.12 197.73 L62.66 197.59 L64.2 197.44 L65.74 197.29 L67.28 197.13 L68.81 196.97 L70.35 196.8 L71.88 196.63 L73.42 196.45 L74.95 196.27 L76.48 196.09 L78.01 195.9 L79.54 195.71 L81.06 195.51 L82.59 195.31 L84.12 195.11 L85.64 194.9 L87.17 194.69 L88.69 194.47 L90.21 194.25 L91.73 194.03 L93.26 193.8 L94.78 193.57 L96.3 193.34 L97.82 193.1 L99.34 192.86 L100.86 192.62 L102.37 192.37 L103.89 192.12 L105.41 191.87 L106.93 191.61 L108.44 191.36 L109.96 191.09 L111.48 190.83 L112.99 190.56 L114.51 190.29 L116.02 190.02 L117.54 189.75 L119.06 189.47 L120.57 189.19 L122.09 188.91 L123.6 188.62 L125.12 188.34 L126.63 188.05 L128.15 187.76 L129.66 187.46 L131.18 187.17 L132.7 186.87 L134.21 186.57 L135.73 186.27 L137.25 185.97 L138.76 185.66 L140.28 185.36 L141.8 185.05 L143.32 184.74 L144.84 184.43 L146.36 184.12 L147.88 183.81 L149.4 183.49 L150.92 183.18 L152.44 182.86 L153.96 182.54 L155.49 182.23 L157.01 181.91 L158.53 181.59 L160.06 181.26 L161.58 180.94 L163.11 180.62 L164.64 180.3 L166.17 179.97 L167.7 179.65 L169.23 179.32 L170.76 178.99 L172.29 178.66 L173.82 178.33 L175.34 177.99 L176.87 177.65 L178.4 177.3 L179.92 176.95 L181.44 176.59 L182.96 176.23 L184.48 175.86 L185.99 175.49 L187.5 175.1 L189.01 174.71 L190.51 174.31 L192.01 173.9 L193.5 173.48 L194.99 173.05 L196.47 172.61 L197.95 172.16 L199.43 171.7 L200.89 171.22 L202.35 170.74 L203.81 170.24 L205.25 169.72 L206.69 169.19 L208.12 168.65 L209.55 168.09 L210.96 167.52 L212.37 166.93 L213.77 166.32 L215.16 165.7 L216.54 165.06 L217.91 164.4 L219.27 163.72 L220.62 163.02 L221.96 162.3 L223.29 161.57 L224.6 160.81 L225.91 160.03 L227.2 159.23 L228.48 158.41 L229.75 157.56 L231.01 156.69 L232.25 155.8 L233.48 154.88 L234.68 153.94 L235.87 152.97 L237.04 151.98 L238.19 150.96 L239.31 149.92 L240.41 148.85 L241.48 147.75 L242.53 146.63 L243.54 145.47 L244.53 144.29 L245.48 143.08 L246.4 141.84 L247.29 140.57 L248.14 139.27 L248.95 137.95 L249.74 136.6 L250.49 135.22 L251.22 133.83 L251.92 132.41 L252.6 130.98 L253.25 129.53 L253.88 128.07 L254.49 126.6" fill="none" stroke="#2a2ae8" stroke-width="1.0" opacity="0.8" transform="translate(0,0.35)"/>
<rect x="25.5" y="116.5" width="239.3" height="90.7" fill="none" stroke="#808080" stroke-width="1"/>
<path d="M27 207.2 v-2.4 M27 116.5 v2.4" stroke="#808080" stroke-width="1"/>
<path d="M61.07 207.2 v-2.4 M61.07 116.5 v2.4" stroke="#808080" stroke-width="1"/>
<path d="M95.14 207.2 v-2.4 M95.14 116.5 v2.4" stroke="#808080" stroke-width="1"/>
<path d="M129.21 207.2 v-2.4 M129.21 116.5 v2.4" stroke="#808080" stroke-width="1"/>
<path d="M163.28 207.2 v-2.4 M163.28 116.5 v2.4" stroke="#808080" stroke-width="1"/>
<path d="M197.35 207.2 v-2.4 M197.35 116.5 v2.4" stroke="#808080" stroke-width="1"/>
<path d="M231.42 207.2 v-2.4 M231.42 116.5 v2.4" stroke="#808080" stroke-width="1"/>
<path d="M265.49 207.2 v-2.4 M265.49 116.5 v2.4" stroke="#808080" stroke-width="1"/>
<path d="M25.5 198.9 h2.4 M264.8 198.9 h-2.4" stroke="#808080" stroke-width="1"/>
<path d="M25.5 182.47 h2.4 M264.8 182.47 h-2.4" stroke="#808080" stroke-width="1"/>
<path d="M25.5 166.05 h2.4 M264.8 166.05 h-2.4" stroke="#808080" stroke-width="1"/>
<path d="M25.5 149.62 h2.4 M264.8 149.62 h-2.4" stroke="#808080" stroke-width="1"/>
<path d="M25.5 133.2 h2.4 M264.8 133.2 h-2.4" stroke="#808080" stroke-width="1"/>
<text x="27.4" y="216.9" font-size="8.2" text-anchor="middle" font-family='"Liberation Sans", sans-serif' fill="#262626" >0</text>
<text x="95.54" y="216.9" font-size="8.2" text-anchor="middle" font-family='"Liberation Sans", sans-serif' fill="#262626" >20</text>
<text x="163.68" y="216.9" font-size="8.2" text-anchor="middle" font-family='"Liberation Sans", sans-serif' fill="#262626" >40</text>
<text x="231.82" y="216.9" font-size="8.2" text-anchor="middle" font-family='"Liberation Sans", sans-serif' fill="#262626" >60</text>
<text x="23.8" y="201.8" font-size="8.2" text-anchor="end" font-family='"Liberation Sans", sans-serif' fill="#262626" >0</text>
<text x="23.8" y="168.95" font-size="8.2" text-anchor="end" font-family='"Liberation Sans", sans-serif' fill="#262626" >1</text>
<text x="23.8" y="136.1" font-size="8.2" text-anchor="end" font-family='"Liberation Sans", sans-serif' fill="#262626" >2</text>
<text x="29.5" y="127.4" font-size="7.65" font-family='"Liberation Sans", sans-serif' fill="#262626">(ρ*/ρ<tspan font-size="5.35" dy="2.29">s</tspan><tspan dy="-2.29">) = 0.38</tspan></text>
<rect x="31.2" y="130.9" width="52.5" height="29.6" fill="#fff" stroke="#c8c8c8" stroke-width="0.8"/>
<path d="M32.3 135.8 H50.5" stroke="#333333" stroke-width="1.65"/>
<text x="52" y="138.6" font-size="7.8" text-anchor="start" font-family='"Liberation Sans", sans-serif' fill="#262626" >S2 N = 1</text>
<path d="M32.3 145.2 H50.5" stroke="#ff2020" stroke-width="1.65"/>
<text x="52" y="148" font-size="7.8" text-anchor="start" font-family='"Liberation Sans", sans-serif' fill="#262626" >S2 N = 2</text>
<path d="M32.3 154.6 H50.5" stroke="#2020ff" stroke-width="1.65"/>
<text x="52" y="157.4" font-size="7.8" text-anchor="start" font-family='"Liberation Sans", sans-serif' fill="#262626" >S2 N = 3</text>
<path d="M27.22 301.61 L28.81 301.67 L30.4 301.72 L31.99 301.76 L33.57 301.79 L35.15 301.82 L36.73 301.83 L38.3 301.84 L39.87 301.84 L41.44 301.83 L43.01 301.81 L44.57 301.79 L46.13 301.76 L47.69 301.72 L49.25 301.67 L50.8 301.62 L52.36 301.56 L53.91 301.49 L55.46 301.41 L57 301.33 L58.55 301.24 L60.09 301.14 L61.63 301.04 L63.17 300.93 L64.7 300.82 L66.24 300.7 L67.77 300.57 L69.3 300.43 L70.83 300.29 L72.36 300.15 L73.89 299.99 L75.42 299.84 L76.94 299.67 L78.46 299.5 L79.99 299.33 L81.51 299.15 L83.03 298.97 L84.54 298.78 L86.06 298.58 L87.58 298.39 L89.09 298.18 L90.61 297.97 L92.12 297.76 L93.63 297.54 L95.15 297.32 L96.66 297.1 L98.17 296.87 L99.68 296.63 L101.19 296.4 L102.7 296.16 L104.21 295.91 L105.71 295.66 L107.22 295.41 L108.73 295.16 L110.24 294.9 L111.74 294.64 L113.25 294.38 L114.76 294.11 L116.27 293.84 L117.77 293.57 L119.28 293.29 L120.79 293.02 L122.29 292.74 L123.8 292.46 L125.31 292.17 L126.82 291.89 L128.33 291.6 L129.84 291.31 L131.35 291.02 L132.86 290.73 L134.37 290.43 L135.88 290.14 L137.39 289.84 L138.9 289.54 L140.42 289.25 L141.93 288.95 L143.45 288.65 L144.96 288.35 L146.48 288.04 L148 287.74 L149.52 287.44 L151.04 287.14 L152.56 286.83 L154.08 286.53 L155.61 286.23 L157.13 285.93 L158.66 285.63 L160.19 285.32 L161.72 285.02 L163.25 284.72 L164.79 284.42 L166.32 284.12 L167.86 283.82 L169.39 283.52 L170.93 283.22 L172.47 282.92 L174.01 282.62 L175.55 282.32 L177.09 282.01 L178.62 281.7 L180.16 281.38 L181.69 281.06 L183.22 280.74 L184.75 280.41 L186.28 280.08 L187.81 279.74 L189.33 279.39 L190.84 279.03 L192.36 278.67 L193.87 278.3 L195.37 277.92 L196.87 277.53 L198.37 277.13 L199.86 276.72 L201.34 276.3 L202.82 275.86 L204.29 275.42 L205.75 274.96 L207.21 274.49 L208.66 274.01 L210.1 273.51 L211.53 273 L212.95 272.47 L214.37 271.93 L215.78 271.37 L217.17 270.79 L218.56 270.2 L219.94 269.59 L221.3 268.96 L222.66 268.31 L224 267.65 L225.34 266.96 L226.66 266.25 L227.97 265.53 L229.27 264.78 L230.55 264.01 L231.82 263.22 L233.08 262.4 L234.32 261.56 L235.54 260.7 L236.75 259.81 L237.94 258.9 L239.11 257.96 L240.26 256.99 L241.39 255.99 L242.5 254.97 L243.58 253.91 L244.65 252.83 L245.68 251.72 L246.7 250.57 L247.69 249.4 L248.65 248.19 L249.58 246.95 L250.49 245.67 L251.37 244.36 L252.21 243.02 L253.03 241.63 L253.81 240.22 L254.57 238.76 L255.28 237.27 L255.97 235.74 L256.62 234.17" fill="none" stroke="#141414" stroke-width="1.1" opacity="0.95" transform="translate(0,-0.2)"/>
<path d="M27.22 301.61 L28.81 301.67 L30.4 301.72 L31.99 301.76 L33.57 301.79 L35.15 301.82 L36.73 301.83 L38.3 301.84 L39.87 301.84 L41.44 301.83 L43.01 301.81 L44.57 301.79 L46.13 301.76 L47.69 301.72 L49.25 301.67 L50.8 301.62 L52.36 301.56 L53.91 301.49 L55.46 301.41 L57 301.33 L58.55 301.24 L60.09 301.14 L61.63 301.04 L63.17 300.93 L64.7 300.82 L66.24 300.7 L67.77 300.57 L69.3 300.43 L70.83 300.29 L72.36 300.15 L73.89 299.99 L75.42 299.84 L76.94 299.67 L78.46 299.5 L79.99 299.33 L81.51 299.15 L83.03 298.97 L84.54 298.78 L86.06 298.58 L87.58 298.39 L89.09 298.18 L90.61 297.97 L92.12 297.76 L93.63 297.54 L95.15 297.32 L96.66 297.1 L98.17 296.87 L99.68 296.63 L101.19 296.4 L102.7 296.16 L104.21 295.91 L105.71 295.66 L107.22 295.41 L108.73 295.16 L110.24 294.9 L111.74 294.64 L113.25 294.38 L114.76 294.11 L116.27 293.84 L117.77 293.57 L119.28 293.29 L120.79 293.02 L122.29 292.74 L123.8 292.46 L125.31 292.17 L126.82 291.89 L128.33 291.6 L129.84 291.31 L131.35 291.02 L132.86 290.73 L134.37 290.43 L135.88 290.14 L137.39 289.84 L138.9 289.54 L140.42 289.25 L141.93 288.95 L143.45 288.65 L144.96 288.35 L146.48 288.04 L148 287.74 L149.52 287.44 L151.04 287.14 L152.56 286.83 L154.08 286.53 L155.61 286.23 L157.13 285.93 L158.66 285.63 L160.19 285.32 L161.72 285.02 L163.25 284.72 L164.79 284.42 L166.32 284.12 L167.86 283.82 L169.39 283.52 L170.93 283.22 L172.47 282.92 L174.01 282.62 L175.55 282.32 L177.09 282.01 L178.62 281.7 L180.16 281.38 L181.69 281.06 L183.22 280.74 L184.75 280.41 L186.28 280.08 L187.81 279.74 L189.33 279.39 L190.84 279.03 L192.36 278.67 L193.87 278.3 L195.37 277.92 L196.87 277.53 L198.37 277.13 L199.86 276.72 L201.34 276.3 L202.82 275.86 L204.29 275.42 L205.75 274.96 L207.21 274.49 L208.66 274.01 L210.1 273.51 L211.53 273 L212.95 272.47 L214.37 271.93 L215.78 271.37 L217.17 270.79 L218.56 270.2 L219.94 269.59 L221.3 268.96 L222.66 268.31 L224 267.65 L225.34 266.96 L226.66 266.25 L227.97 265.53 L229.27 264.78 L230.55 264.01 L231.82 263.22 L233.08 262.4 L234.32 261.56 L235.54 260.7 L236.75 259.81 L237.94 258.9 L239.11 257.96 L240.26 256.99 L241.39 255.99 L242.5 254.97 L243.58 253.91 L244.65 252.83 L245.68 251.72 L246.7 250.57 L247.69 249.4 L248.65 248.19 L249.58 246.95 L250.49 245.67 L251.37 244.36 L252.21 243.02 L253.03 241.63 L253.81 240.22 L254.57 238.76 L255.28 237.27 L255.97 235.74 L256.62 234.17" fill="none" stroke="#2a2af0" stroke-width="1.05" opacity="0.8" transform="translate(0,0.3)"/>
<path d="M26.96 309.52 L28.54 309.5 L30.11 309.47 L31.68 309.44 L33.26 309.4 L34.83 309.35 L36.4 309.3 L37.97 309.24 L39.54 309.18 L41.11 309.11 L42.67 309.03 L44.24 308.95 L45.8 308.86 L47.37 308.77 L48.93 308.67 L50.49 308.57 L52.05 308.46 L53.62 308.34 L55.18 308.22 L56.73 308.09 L58.29 307.96 L59.85 307.82 L61.41 307.68 L62.96 307.53 L64.52 307.38 L66.07 307.22 L67.62 307.06 L69.18 306.9 L70.73 306.72 L72.28 306.55 L73.83 306.37 L75.38 306.18 L76.93 305.99 L78.48 305.8 L80.03 305.6 L81.57 305.39 L83.12 305.19 L84.67 304.98 L86.21 304.76 L87.76 304.54 L89.3 304.32 L90.84 304.09 L92.39 303.86 L93.93 303.62 L95.47 303.39 L97.01 303.14 L98.55 302.9 L100.09 302.65 L101.63 302.4 L103.17 302.14 L104.71 301.88 L106.25 301.62 L107.79 301.35 L109.33 301.08 L110.86 300.81 L112.4 300.54 L113.94 300.26 L115.47 299.98 L117.01 299.7 L118.54 299.41 L120.08 299.12 L121.61 298.83 L123.15 298.54 L124.68 298.24 L126.21 297.95 L127.75 297.65 L129.28 297.34 L130.81 297.04 L132.34 296.73 L133.88 296.42 L135.41 296.11 L136.94 295.8 L138.47 295.49 L140 295.17 L141.53 294.85 L143.06 294.53 L144.6 294.21 L146.13 293.89 L147.66 293.57 L149.19 293.24 L150.72 292.92 L152.25 292.59 L153.78 292.26 L155.31 291.93 L156.84 291.6 L158.37 291.27 L159.89 290.94 L161.42 290.6 L162.95 290.27 L164.48 289.94 L166.01 289.6 L167.54 289.26 L169.07 288.93 L170.6 288.59 L172.13 288.25 L173.65 287.9 L175.18 287.55 L176.71 287.2 L178.23 286.84 L179.75 286.48 L181.27 286.11 L182.79 285.74 L184.31 285.36 L185.82 284.97 L187.34 284.58 L188.85 284.18 L190.36 283.77 L191.86 283.35 L193.36 282.92 L194.86 282.48 L196.36 282.03 L197.85 281.57 L199.34 281.1 L200.83 280.61 L202.31 280.12 L203.79 279.61 L205.26 279.08 L206.73 278.55 L208.19 278 L209.64 277.43 L211.09 276.85 L212.52 276.25 L213.95 275.63 L215.37 275 L216.78 274.35 L218.18 273.68 L219.57 273 L220.94 272.29 L222.31 271.57 L223.66 270.82 L224.99 270.05 L226.32 269.27 L227.62 268.46 L228.92 267.63 L230.19 266.77 L231.45 265.89 L232.7 264.99 L233.92 264.07 L235.13 263.12 L236.31 262.15 L237.48 261.15 L238.63 260.12 L239.75 259.08 L240.86 258 L241.94 256.9 L242.99 255.78 L244.03 254.63 L245.04 253.45 L246.02 252.24 L246.98 251.01 L247.92 249.75 L248.82 248.46 L249.7 247.15 L250.55 245.8 L251.37 244.43 L252.17 243.02 L252.93 241.59 L253.66 240.13 L254.36 238.64 L255.03 237.12 L255.66 235.57 L256.26 233.99" fill="none" stroke="#141414" stroke-width="1.1" opacity="0.7" transform="translate(0,-0.2)"/>
<path d="M26.96 309.52 L28.54 309.5 L30.11 309.47 L31.68 309.44 L33.26 309.4 L34.83 309.35 L36.4 309.3 L37.97 309.24 L39.54 309.18 L41.11 309.11 L42.67 309.03 L44.24 308.95 L45.8 308.86 L47.37 308.77 L48.93 308.67 L50.49 308.57 L52.05 308.46 L53.62 308.34 L55.18 308.22 L56.73 308.09 L58.29 307.96 L59.85 307.82 L61.41 307.68 L62.96 307.53 L64.52 307.38 L66.07 307.22 L67.62 307.06 L69.18 306.9 L70.73 306.72 L72.28 306.55 L73.83 306.37 L75.38 306.18 L76.93 305.99 L78.48 305.8 L80.03 305.6 L81.57 305.39 L83.12 305.19 L84.67 304.98 L86.21 304.76 L87.76 304.54 L89.3 304.32 L90.84 304.09 L92.39 303.86 L93.93 303.62 L95.47 303.39 L97.01 303.14 L98.55 302.9 L100.09 302.65 L101.63 302.4 L103.17 302.14 L104.71 301.88 L106.25 301.62 L107.79 301.35 L109.33 301.08 L110.86 300.81 L112.4 300.54 L113.94 300.26 L115.47 299.98 L117.01 299.7 L118.54 299.41 L120.08 299.12 L121.61 298.83 L123.15 298.54 L124.68 298.24 L126.21 297.95 L127.75 297.65 L129.28 297.34 L130.81 297.04 L132.34 296.73 L133.88 296.42 L135.41 296.11 L136.94 295.8 L138.47 295.49 L140 295.17 L141.53 294.85 L143.06 294.53 L144.6 294.21 L146.13 293.89 L147.66 293.57 L149.19 293.24 L150.72 292.92 L152.25 292.59 L153.78 292.26 L155.31 291.93 L156.84 291.6 L158.37 291.27 L159.89 290.94 L161.42 290.6 L162.95 290.27 L164.48 289.94 L166.01 289.6 L167.54 289.26 L169.07 288.93 L170.6 288.59 L172.13 288.25 L173.65 287.9 L175.18 287.55 L176.71 287.2 L178.23 286.84 L179.75 286.48 L181.27 286.11 L182.79 285.74 L184.31 285.36 L185.82 284.97 L187.34 284.58 L188.85 284.18 L190.36 283.77 L191.86 283.35 L193.36 282.92 L194.86 282.48 L196.36 282.03 L197.85 281.57 L199.34 281.1 L200.83 280.61 L202.31 280.12 L203.79 279.61 L205.26 279.08 L206.73 278.55 L208.19 278 L209.64 277.43 L211.09 276.85 L212.52 276.25 L213.95 275.63 L215.37 275 L216.78 274.35 L218.18 273.68 L219.57 273 L220.94 272.29 L222.31 271.57 L223.66 270.82 L224.99 270.05 L226.32 269.27 L227.62 268.46 L228.92 267.63 L230.19 266.77 L231.45 265.89 L232.7 264.99 L233.92 264.07 L235.13 263.12 L236.31 262.15 L237.48 261.15 L238.63 260.12 L239.75 259.08 L240.86 258 L241.94 256.9 L242.99 255.78 L244.03 254.63 L245.04 253.45 L246.02 252.24 L246.98 251.01 L247.92 249.75 L248.82 248.46 L249.7 247.15 L250.55 245.8 L251.37 244.43 L252.17 243.02 L252.93 241.59 L253.66 240.13 L254.36 238.64 L255.03 237.12 L255.66 235.57 L256.26 233.99" fill="none" stroke="#2a2af0" stroke-width="1.05" opacity="0.8" transform="translate(0,0.3)"/>
<rect x="25.5" y="226.9" width="239.3" height="90.6" fill="none" stroke="#808080" stroke-width="1"/>
<path d="M27 317.5 v-2.4 M27 226.9 v2.4" stroke="#808080" stroke-width="1"/>
<path d="M61.07 317.5 v-2.4 M61.07 226.9 v2.4" stroke="#808080" stroke-width="1"/>
<path d="M95.14 317.5 v-2.4 M95.14 226.9 v2.4" stroke="#808080" stroke-width="1"/>
<path d="M129.21 317.5 v-2.4 M129.21 226.9 v2.4" stroke="#808080" stroke-width="1"/>
<path d="M163.28 317.5 v-2.4 M163.28 226.9 v2.4" stroke="#808080" stroke-width="1"/>
<path d="M197.35 317.5 v-2.4 M197.35 226.9 v2.4" stroke="#808080" stroke-width="1"/>
<path d="M231.42 317.5 v-2.4 M231.42 226.9 v2.4" stroke="#808080" stroke-width="1"/>
<path d="M265.49 317.5 v-2.4 M265.49 226.9 v2.4" stroke="#808080" stroke-width="1"/>
<path d="M25.5 309.4 h2.4 M264.8 309.4 h-2.4" stroke="#808080" stroke-width="1"/>
<path d="M25.5 292.97 h2.4 M264.8 292.97 h-2.4" stroke="#808080" stroke-width="1"/>
<path d="M25.5 276.55 h2.4 M264.8 276.55 h-2.4" stroke="#808080" stroke-width="1"/>
<path d="M25.5 260.12 h2.4 M264.8 260.12 h-2.4" stroke="#808080" stroke-width="1"/>
<path d="M25.5 243.7 h2.4 M264.8 243.7 h-2.4" stroke="#808080" stroke-width="1"/>
<text x="27.4" y="327.2" font-size="8.2" text-anchor="middle" font-family='"Liberation Sans", sans-serif' fill="#262626" >0</text>
<text x="95.54" y="327.2" font-size="8.2" text-anchor="middle" font-family='"Liberation Sans", sans-serif' fill="#262626" >20</text>
<text x="163.68" y="327.2" font-size="8.2" text-anchor="middle" font-family='"Liberation Sans", sans-serif' fill="#262626" >40</text>
<text x="231.82" y="327.2" font-size="8.2" text-anchor="middle" font-family='"Liberation Sans", sans-serif' fill="#262626" >60</text>
<text x="23.8" y="312.3" font-size="8.2" text-anchor="end" font-family='"Liberation Sans", sans-serif' fill="#262626" >0</text>
<text x="23.8" y="279.45" font-size="8.2" text-anchor="end" font-family='"Liberation Sans", sans-serif' fill="#262626" >1</text>
<text x="23.8" y="246.6" font-size="8.2" text-anchor="end" font-family='"Liberation Sans", sans-serif' fill="#262626" >2</text>
<text x="29.5" y="237.8" font-size="7.65" font-family='"Liberation Sans", sans-serif' fill="#262626">(ρ*/ρ<tspan font-size="5.35" dy="2.29">s</tspan><tspan dy="-2.29">) = 0.38</tspan></text>
<rect x="31.2" y="241.3" width="52.5" height="29.6" fill="#fff" stroke="#c8c8c8" stroke-width="0.8"/>
<path d="M32.3 246.2 H50.5" stroke="#333333" stroke-width="1.65"/>
<text x="52" y="249" font-size="7.8" text-anchor="start" font-family='"Liberation Sans", sans-serif' fill="#262626" >S3 N = 1</text>
<path d="M32.3 255.6 H50.5" stroke="#ff2020" stroke-width="1.65"/>
<text x="52" y="258.4" font-size="7.8" text-anchor="start" font-family='"Liberation Sans", sans-serif' fill="#262626" >S3 N = 2</text>
<path d="M32.3 265 H50.5" stroke="#2020ff" stroke-width="1.65"/>
<text x="52" y="267.8" font-size="7.8" text-anchor="start" font-family='"Liberation Sans", sans-serif' fill="#262626" >S3 N = 3</text>
<text x="2" y="12.1" font-size="12.6" text-anchor="start" font-family='"Liberation Sans", sans-serif' fill="#262626" >(A)</text>
<text x="101.3" y="337" font-size="8.9" text-anchor="start" font-family='"Liberation Sans", sans-serif' fill="#262626" >Engineering strain (%)</text>
<text transform="translate(13.4,157.5) rotate(-90)" font-size="8.9" text-anchor="middle" font-family='"Liberation Sans", sans-serif' fill="#262626">Cumulative energy (MJ/m<tspan font-size="6.5" dy="-3.6">3</tspan><tspan dy="3.6">)</tspan></text>
<rect x="315.2" y="6.8" width="229.2" height="89.7" fill="none" stroke="#808080" stroke-width="1"/>
<path d="M315 96.5 v-2.6 M315 6.8 v2.6" stroke="#555" stroke-width="0.8"/>
<path d="M327.25 96.5 v-1.4 M327.25 6.8 v1.4" stroke="#8a8a8a" stroke-width="0.8"/>
<path d="M334.42 96.5 v-1.4 M334.42 6.8 v1.4" stroke="#8a8a8a" stroke-width="0.8"/>
<path d="M339.5 96.5 v-1.4 M339.5 6.8 v1.4" stroke="#8a8a8a" stroke-width="0.8"/>
<path d="M343.45 96.5 v-1.4 M343.45 6.8 v1.4" stroke="#8a8a8a" stroke-width="0.8"/>
<path d="M346.67 96.5 v-1.4 M346.67 6.8 v1.4" stroke="#8a8a8a" stroke-width="0.8"/>
<path d="M349.4 96.5 v-1.4 M349.4 6.8 v1.4" stroke="#8a8a8a" stroke-width="0.8"/>
<path d="M351.76 96.5 v-1.4 M351.76 6.8 v1.4" stroke="#8a8a8a" stroke-width="0.8"/>
<path d="M353.84 96.5 v-1.4 M353.84 6.8 v1.4" stroke="#8a8a8a" stroke-width="0.8"/>
<path d="M355.7 96.5 v-2.6 M355.7 6.8 v2.6" stroke="#555" stroke-width="0.8"/>
<path d="M367.95 96.5 v-1.4 M367.95 6.8 v1.4" stroke="#8a8a8a" stroke-width="0.8"/>
<path d="M375.12 96.5 v-1.4 M375.12 6.8 v1.4" stroke="#8a8a8a" stroke-width="0.8"/>
<path d="M380.2 96.5 v-1.4 M380.2 6.8 v1.4" stroke="#8a8a8a" stroke-width="0.8"/>
<path d="M384.15 96.5 v-1.4 M384.15 6.8 v1.4" stroke="#8a8a8a" stroke-width="0.8"/>
<path d="M387.37 96.5 v-1.4 M387.37 6.8 v1.4" stroke="#8a8a8a" stroke-width="0.8"/>
<path d="M390.1 96.5 v-1.4 M390.1 6.8 v1.4" stroke="#8a8a8a" stroke-width="0.8"/>
<path d="M392.46 96.5 v-1.4 M392.46 6.8 v1.4" stroke="#8a8a8a" stroke-width="0.8"/>
<path d="M394.54 96.5 v-1.4 M394.54 6.8 v1.4" stroke="#8a8a8a" stroke-width="0.8"/>
<path d="M396.4 96.5 v-2.6 M396.4 6.8 v2.6" stroke="#555" stroke-width="0.8"/>
<path d="M408.65 96.5 v-1.4 M408.65 6.8 v1.4" stroke="#8a8a8a" stroke-width="0.8"/>
<path d="M415.82 96.5 v-1.4 M415.82 6.8 v1.4" stroke="#8a8a8a" stroke-width="0.8"/>
<path d="M420.9 96.5 v-1.4 M420.9 6.8 v1.4" stroke="#8a8a8a" stroke-width="0.8"/>
<path d="M424.85 96.5 v-1.4 M424.85 6.8 v1.4" stroke="#8a8a8a" stroke-width="0.8"/>
<path d="M428.07 96.5 v-1.4 M428.07 6.8 v1.4" stroke="#8a8a8a" stroke-width="0.8"/>
<path d="M430.8 96.5 v-1.4 M430.8 6.8 v1.4" stroke="#8a8a8a" stroke-width="0.8"/>
<path d="M433.16 96.5 v-1.4 M433.16 6.8 v1.4" stroke="#8a8a8a" stroke-width="0.8"/>
<path d="M435.24 96.5 v-1.4 M435.24 6.8 v1.4" stroke="#8a8a8a" stroke-width="0.8"/>
<path d="M437.1 96.5 v-2.6 M437.1 6.8 v2.6" stroke="#555" stroke-width="0.8"/>
<path d="M449.35 96.5 v-1.4 M449.35 6.8 v1.4" stroke="#8a8a8a" stroke-width="0.8"/>
<path d="M456.52 96.5 v-1.4 M456.52 6.8 v1.4" stroke="#8a8a8a" stroke-width="0.8"/>
<path d="M461.6 96.5 v-1.4 M461.6 6.8 v1.4" stroke="#8a8a8a" stroke-width="0.8"/>
<path d="M465.55 96.5 v-1.4 M465.55 6.8 v1.4" stroke="#8a8a8a" stroke-width="0.8"/>
<path d="M468.77 96.5 v-1.4 M468.77 6.8 v1.4" stroke="#8a8a8a" stroke-width="0.8"/>
<path d="M471.5 96.5 v-1.4 M471.5 6.8 v1.4" stroke="#8a8a8a" stroke-width="0.8"/>
<path d="M473.86 96.5 v-1.4 M473.86 6.8 v1.4" stroke="#8a8a8a" stroke-width="0.8"/>
<path d="M475.94 96.5 v-1.4 M475.94 6.8 v1.4" stroke="#8a8a8a" stroke-width="0.8"/>
<path d="M477.8 96.5 v-2.6 M477.8 6.8 v2.6" stroke="#555" stroke-width="0.8"/>
<path d="M490.05 96.5 v-1.4 M490.05 6.8 v1.4" stroke="#8a8a8a" stroke-width="0.8"/>
<path d="M497.22 96.5 v-1.4 M497.22 6.8 v1.4" stroke="#8a8a8a" stroke-width="0.8"/>
<path d="M502.3 96.5 v-1.4 M502.3 6.8 v1.4" stroke="#8a8a8a" stroke-width="0.8"/>
<path d="M506.25 96.5 v-1.4 M506.25 6.8 v1.4" stroke="#8a8a8a" stroke-width="0.8"/>
<path d="M509.47 96.5 v-1.4 M509.47 6.8 v1.4" stroke="#8a8a8a" stroke-width="0.8"/>
<path d="M512.2 96.5 v-1.4 M512.2 6.8 v1.4" stroke="#8a8a8a" stroke-width="0.8"/>
<path d="M514.56 96.5 v-1.4 M514.56 6.8 v1.4" stroke="#8a8a8a" stroke-width="0.8"/>
<path d="M516.64 96.5 v-1.4 M516.64 6.8 v1.4" stroke="#8a8a8a" stroke-width="0.8"/>
<path d="M518.5 96.5 v-2.6 M518.5 6.8 v2.6" stroke="#555" stroke-width="0.8"/>
<path d="M530.75 96.5 v-1.4 M530.75 6.8 v1.4" stroke="#8a8a8a" stroke-width="0.8"/>
<path d="M537.92 96.5 v-1.4 M537.92 6.8 v1.4" stroke="#8a8a8a" stroke-width="0.8"/>
<path d="M543 96.5 v-1.4 M543 6.8 v1.4" stroke="#8a8a8a" stroke-width="0.8"/>
<path d="M315.2 96.5 h2.6 M544.4 96.5 h-2.6" stroke="#222" stroke-width="0.8"/>
<path d="M315.2 93.8 h1.7 M544.4 93.8 h-1.7" stroke="#222" stroke-width="0.8"/>
<path d="M315.2 92.22 h1.7 M544.4 92.22 h-1.7" stroke="#222" stroke-width="0.8"/>
<path d="M315.2 91.1 h1.7 M544.4 91.1 h-1.7" stroke="#222" stroke-width="0.8"/>
<path d="M315.2 90.23 h1.7 M544.4 90.23 h-1.7" stroke="#222" stroke-width="0.8"/>
<path d="M315.2 89.52 h1.7 M544.4 89.52 h-1.7" stroke="#222" stroke-width="0.8"/>
<path d="M315.2 88.92 h1.7 M544.4 88.92 h-1.7" stroke="#222" stroke-width="0.8"/>
<path d="M315.2 88.4 h1.7 M544.4 88.4 h-1.7" stroke="#222" stroke-width="0.8"/>
<path d="M315.2 87.94 h1.7 M544.4 87.94 h-1.7" stroke="#222" stroke-width="0.8"/>
<path d="M315.2 87.53 h2.6 M544.4 87.53 h-2.6" stroke="#222" stroke-width="0.8"/>
<path d="M315.2 84.83 h1.7 M544.4 84.83 h-1.7" stroke="#222" stroke-width="0.8"/>
<path d="M315.2 83.25 h1.7 M544.4 83.25 h-1.7" stroke="#222" stroke-width="0.8"/>
<path d="M315.2 82.13 h1.7 M544.4 82.13 h-1.7" stroke="#222" stroke-width="0.8"/>
<path d="M315.2 81.26 h1.7 M544.4 81.26 h-1.7" stroke="#222" stroke-width="0.8"/>
<path d="M315.2 80.55 h1.7 M544.4 80.55 h-1.7" stroke="#222" stroke-width="0.8"/>
<path d="M315.2 79.95 h1.7 M544.4 79.95 h-1.7" stroke="#222" stroke-width="0.8"/>
<path d="M315.2 79.43 h1.7 M544.4 79.43 h-1.7" stroke="#222" stroke-width="0.8"/>
<path d="M315.2 78.97 h1.7 M544.4 78.97 h-1.7" stroke="#222" stroke-width="0.8"/>
<path d="M315.2 78.56 h2.6 M544.4 78.56 h-2.6" stroke="#222" stroke-width="0.8"/>
<path d="M315.2 75.86 h1.7 M544.4 75.86 h-1.7" stroke="#222" stroke-width="0.8"/>
<path d="M315.2 74.28 h1.7 M544.4 74.28 h-1.7" stroke="#222" stroke-width="0.8"/>
<path d="M315.2 73.16 h1.7 M544.4 73.16 h-1.7" stroke="#222" stroke-width="0.8"/>
<path d="M315.2 72.29 h1.7 M544.4 72.29 h-1.7" stroke="#222" stroke-width="0.8"/>
<path d="M315.2 71.58 h1.7 M544.4 71.58 h-1.7" stroke="#222" stroke-width="0.8"/>
<path d="M315.2 70.98 h1.7 M544.4 70.98 h-1.7" stroke="#222" stroke-width="0.8"/>
<path d="M315.2 70.46 h1.7 M544.4 70.46 h-1.7" stroke="#222" stroke-width="0.8"/>
<path d="M315.2 70 h1.7 M544.4 70 h-1.7" stroke="#222" stroke-width="0.8"/>
<path d="M315.2 69.59 h2.6 M544.4 69.59 h-2.6" stroke="#222" stroke-width="0.8"/>
<path d="M315.2 66.89 h1.7 M544.4 66.89 h-1.7" stroke="#222" stroke-width="0.8"/>
<path d="M315.2 65.31 h1.7 M544.4 65.31 h-1.7" stroke="#222" stroke-width="0.8"/>
<path d="M315.2 64.19 h1.7 M544.4 64.19 h-1.7" stroke="#222" stroke-width="0.8"/>
<path d="M315.2 63.32 h1.7 M544.4 63.32 h-1.7" stroke="#222" stroke-width="0.8"/>
<path d="M315.2 62.61 h1.7 M544.4 62.61 h-1.7" stroke="#222" stroke-width="0.8"/>
<path d="M315.2 62.01 h1.7 M544.4 62.01 h-1.7" stroke="#222" stroke-width="0.8"/>
<path d="M315.2 61.49 h1.7 M544.4 61.49 h-1.7" stroke="#222" stroke-width="0.8"/>
<path d="M315.2 61.03 h1.7 M544.4 61.03 h-1.7" stroke="#222" stroke-width="0.8"/>
<path d="M315.2 60.62 h2.6 M544.4 60.62 h-2.6" stroke="#222" stroke-width="0.8"/>
<path d="M315.2 57.92 h1.7 M544.4 57.92 h-1.7" stroke="#222" stroke-width="0.8"/>
<path d="M315.2 56.34 h1.7 M544.4 56.34 h-1.7" stroke="#222" stroke-width="0.8"/>
<path d="M315.2 55.22 h1.7 M544.4 55.22 h-1.7" stroke="#222" stroke-width="0.8"/>
<path d="M315.2 54.35 h1.7 M544.4 54.35 h-1.7" stroke="#222" stroke-width="0.8"/>
<path d="M315.2 53.64 h1.7 M544.4 53.64 h-1.7" stroke="#222" stroke-width="0.8"/>
<path d="M315.2 53.04 h1.7 M544.4 53.04 h-1.7" stroke="#222" stroke-width="0.8"/>
<path d="M315.2 52.52 h1.7 M544.4 52.52 h-1.7" stroke="#222" stroke-width="0.8"/>
<path d="M315.2 52.06 h1.7 M544.4 52.06 h-1.7" stroke="#222" stroke-width="0.8"/>
<path d="M315.2 51.65 h2.6 M544.4 51.65 h-2.6" stroke="#222" stroke-width="0.8"/>
<path d="M315.2 48.95 h1.7 M544.4 48.95 h-1.7" stroke="#222" stroke-width="0.8"/>
<path d="M315.2 47.37 h1.7 M544.4 47.37 h-1.7" stroke="#222" stroke-width="0.8"/>
<path d="M315.2 46.25 h1.7 M544.4 46.25 h-1.7" stroke="#222" stroke-width="0.8"/>
<path d="M315.2 45.38 h1.7 M544.4 45.38 h-1.7" stroke="#222" stroke-width="0.8"/>
<path d="M315.2 44.67 h1.7 M544.4 44.67 h-1.7" stroke="#222" stroke-width="0.8"/>
<path d="M315.2 44.07 h1.7 M544.4 44.07 h-1.7" stroke="#222" stroke-width="0.8"/>
<path d="M315.2 43.55 h1.7 M544.4 43.55 h-1.7" stroke="#222" stroke-width="0.8"/>
<path d="M315.2 43.09 h1.7 M544.4 43.09 h-1.7" stroke="#222" stroke-width="0.8"/>
<path d="M315.2 42.68 h2.6 M544.4 42.68 h-2.6" stroke="#222" stroke-width="0.8"/>
<path d="M315.2 39.98 h1.7 M544.4 39.98 h-1.7" stroke="#222" stroke-width="0.8"/>
<path d="M315.2 38.4 h1.7 M544.4 38.4 h-1.7" stroke="#222" stroke-width="0.8"/>
<path d="M315.2 37.28 h1.7 M544.4 37.28 h-1.7" stroke="#222" stroke-width="0.8"/>
<path d="M315.2 36.41 h1.7 M544.4 36.41 h-1.7" stroke="#222" stroke-width="0.8"/>
<path d="M315.2 35.7 h1.7 M544.4 35.7 h-1.7" stroke="#222" stroke-width="0.8"/>
<path d="M315.2 35.1 h1.7 M544.4 35.1 h-1.7" stroke="#222" stroke-width="0.8"/>
<path d="M315.2 34.58 h1.7 M544.4 34.58 h-1.7" stroke="#222" stroke-width="0.8"/>
<path d="M315.2 34.12 h1.7 M544.4 34.12 h-1.7" stroke="#222" stroke-width="0.8"/>
<path d="M315.2 33.71 h2.6 M544.4 33.71 h-2.6" stroke="#222" stroke-width="0.8"/>
<path d="M315.2 31.01 h1.7 M544.4 31.01 h-1.7" stroke="#222" stroke-width="0.8"/>
<path d="M315.2 29.43 h1.7 M544.4 29.43 h-1.7" stroke="#222" stroke-width="0.8"/>
<path d="M315.2 28.31 h1.7 M544.4 28.31 h-1.7" stroke="#222" stroke-width="0.8"/>
<path d="M315.2 27.44 h1.7 M544.4 27.44 h-1.7" stroke="#222" stroke-width="0.8"/>
<path d="M315.2 26.73 h1.7 M544.4 26.73 h-1.7" stroke="#222" stroke-width="0.8"/>
<path d="M315.2 26.13 h1.7 M544.4 26.13 h-1.7" stroke="#222" stroke-width="0.8"/>
<path d="M315.2 25.61 h1.7 M544.4 25.61 h-1.7" stroke="#222" stroke-width="0.8"/>
<path d="M315.2 25.15 h1.7 M544.4 25.15 h-1.7" stroke="#222" stroke-width="0.8"/>
<path d="M315.2 24.74 h2.6 M544.4 24.74 h-2.6" stroke="#222" stroke-width="0.8"/>
<path d="M315.2 22.04 h1.7 M544.4 22.04 h-1.7" stroke="#222" stroke-width="0.8"/>
<path d="M315.2 20.46 h1.7 M544.4 20.46 h-1.7" stroke="#222" stroke-width="0.8"/>
<path d="M315.2 19.34 h1.7 M544.4 19.34 h-1.7" stroke="#222" stroke-width="0.8"/>
<path d="M315.2 18.47 h1.7 M544.4 18.47 h-1.7" stroke="#222" stroke-width="0.8"/>
<path d="M315.2 17.76 h1.7 M544.4 17.76 h-1.7" stroke="#222" stroke-width="0.8"/>
<path d="M315.2 17.16 h1.7 M544.4 17.16 h-1.7" stroke="#222" stroke-width="0.8"/>
<path d="M315.2 16.64 h1.7 M544.4 16.64 h-1.7" stroke="#222" stroke-width="0.8"/>
<path d="M315.2 16.18 h1.7 M544.4 16.18 h-1.7" stroke="#222" stroke-width="0.8"/>
<path d="M315.2 15.77 h2.6 M544.4 15.77 h-2.6" stroke="#222" stroke-width="0.8"/>
<path d="M315.2 13.07 h1.7 M544.4 13.07 h-1.7" stroke="#222" stroke-width="0.8"/>
<path d="M315.2 11.49 h1.7 M544.4 11.49 h-1.7" stroke="#222" stroke-width="0.8"/>
<path d="M315.2 10.37 h1.7 M544.4 10.37 h-1.7" stroke="#222" stroke-width="0.8"/>
<path d="M315.2 9.5 h1.7 M544.4 9.5 h-1.7" stroke="#222" stroke-width="0.8"/>
<path d="M315.2 8.79 h1.7 M544.4 8.79 h-1.7" stroke="#222" stroke-width="0.8"/>
<path d="M315.2 8.19 h1.7 M544.4 8.19 h-1.7" stroke="#222" stroke-width="0.8"/>
<path d="M315.2 7.67 h1.7 M544.4 7.67 h-1.7" stroke="#222" stroke-width="0.8"/>
<path d="M315.2 7.21 h1.7 M544.4 7.21 h-1.7" stroke="#222" stroke-width="0.8"/>
<text x="315.2" y="107.5" font-size="8.2" text-anchor="middle" font-family='"Liberation Sans", sans-serif' fill="#262626" >10<tspan font-size="5.9" dy="-3.5">-5</tspan></text>
<text x="355.9" y="107.5" font-size="8.2" text-anchor="middle" font-family='"Liberation Sans", sans-serif' fill="#262626" >10<tspan font-size="5.9" dy="-3.5">-4</tspan></text>
<text x="396.6" y="107.5" font-size="8.2" text-anchor="middle" font-family='"Liberation Sans", sans-serif' fill="#262626" >10<tspan font-size="5.9" dy="-3.5">-3</tspan></text>
<text x="437.3" y="107.5" font-size="8.2" text-anchor="middle" font-family='"Liberation Sans", sans-serif' fill="#262626" >10<tspan font-size="5.9" dy="-3.5">-2</tspan></text>
<text x="478" y="107.5" font-size="8.2" text-anchor="middle" font-family='"Liberation Sans", sans-serif' fill="#262626" >10<tspan font-size="5.9" dy="-3.5">-1</tspan></text>
<text x="518.7" y="107.5" font-size="8.2" text-anchor="middle" font-family='"Liberation Sans", sans-serif' fill="#262626" >10<tspan font-size="5.9" dy="-3.5">0</tspan></text>
<text x="312" y="99.3" font-size="8.2" text-anchor="end" font-family='"Liberation Sans", sans-serif' fill="#262626" >10<tspan font-size="5.9" dy="-3.5">-8</tspan></text>
<text x="312" y="90.33" font-size="8.2" text-anchor="end" font-family='"Liberation Sans", sans-serif' fill="#262626" >10<tspan font-size="5.9" dy="-3.5">-7</tspan></text>
<text x="312" y="81.36" font-size="8.2" text-anchor="end" font-family='"Liberation Sans", sans-serif' fill="#262626" >10<tspan font-size="5.9" dy="-3.5">-6</tspan></text>
<text x="312" y="72.39" font-size="8.2" text-anchor="end" font-family='"Liberation Sans", sans-serif' fill="#262626" >10<tspan font-size="5.9" dy="-3.5">-5</tspan></text>
<text x="312" y="63.42" font-size="8.2" text-anchor="end" font-family='"Liberation Sans", sans-serif' fill="#262626" >10<tspan font-size="5.9" dy="-3.5">-4</tspan></text>
<text x="312" y="54.45" font-size="8.2" text-anchor="end" font-family='"Liberation Sans", sans-serif' fill="#262626" >10<tspan font-size="5.9" dy="-3.5">-3</tspan></text>
<text x="312" y="45.48" font-size="8.2" text-anchor="end" font-family='"Liberation Sans", sans-serif' fill="#262626" >10<tspan font-size="5.9" dy="-3.5">-2</tspan></text>
<text x="312" y="36.51" font-size="8.2" text-anchor="end" font-family='"Liberation Sans", sans-serif' fill="#262626" >10<tspan font-size="5.9" dy="-3.5">-1</tspan></text>
<text x="312" y="27.54" font-size="8.2" text-anchor="end" font-family='"Liberation Sans", sans-serif' fill="#262626" >10<tspan font-size="5.9" dy="-3.5">0</tspan></text>
<text x="312" y="18.57" font-size="8.2" text-anchor="end" font-family='"Liberation Sans", sans-serif' fill="#262626" >10<tspan font-size="5.9" dy="-3.5">1</tspan></text>
<text x="312" y="9.6" font-size="8.2" text-anchor="end" font-family='"Liberation Sans", sans-serif' fill="#262626" >10<tspan font-size="5.9" dy="-3.5">2</tspan></text>
<text x="317.8" y="18.27" font-size="7.65" font-family='"Liberation Sans", sans-serif' fill="#262626">(ρ*/ρ<tspan font-size="5.35" dy="2.29">s</tspan><tspan dy="-2.29">) = 0.35</tspan></text>
<rect x="315.2" y="116.3" width="229.2" height="89.3" fill="none" stroke="#808080" stroke-width="1"/>
<path d="M315 205.6 v-2.6 M315 116.3 v2.6" stroke="#555" stroke-width="0.8"/>
<path d="M327.25 205.6 v-1.4 M327.25 116.3 v1.4" stroke="#8a8a8a" stroke-width="0.8"/>
<path d="M334.42 205.6 v-1.4 M334.42 116.3 v1.4" stroke="#8a8a8a" stroke-width="0.8"/>
<path d="M339.5 205.6 v-1.4 M339.5 116.3 v1.4" stroke="#8a8a8a" stroke-width="0.8"/>
<path d="M343.45 205.6 v-1.4 M343.45 116.3 v1.4" stroke="#8a8a8a" stroke-width="0.8"/>
<path d="M346.67 205.6 v-1.4 M346.67 116.3 v1.4" stroke="#8a8a8a" stroke-width="0.8"/>
<path d="M349.4 205.6 v-1.4 M349.4 116.3 v1.4" stroke="#8a8a8a" stroke-width="0.8"/>
<path d="M351.76 205.6 v-1.4 M351.76 116.3 v1.4" stroke="#8a8a8a" stroke-width="0.8"/>
<path d="M353.84 205.6 v-1.4 M353.84 116.3 v1.4" stroke="#8a8a8a" stroke-width="0.8"/>
<path d="M355.7 205.6 v-2.6 M355.7 116.3 v2.6" stroke="#555" stroke-width="0.8"/>
<path d="M367.95 205.6 v-1.4 M367.95 116.3 v1.4" stroke="#8a8a8a" stroke-width="0.8"/>
<path d="M375.12 205.6 v-1.4 M375.12 116.3 v1.4" stroke="#8a8a8a" stroke-width="0.8"/>
<path d="M380.2 205.6 v-1.4 M380.2 116.3 v1.4" stroke="#8a8a8a" stroke-width="0.8"/>
<path d="M384.15 205.6 v-1.4 M384.15 116.3 v1.4" stroke="#8a8a8a" stroke-width="0.8"/>
<path d="M387.37 205.6 v-1.4 M387.37 116.3 v1.4" stroke="#8a8a8a" stroke-width="0.8"/>
<path d="M390.1 205.6 v-1.4 M390.1 116.3 v1.4" stroke="#8a8a8a" stroke-width="0.8"/>
<path d="M392.46 205.6 v-1.4 M392.46 116.3 v1.4" stroke="#8a8a8a" stroke-width="0.8"/>
<path d="M394.54 205.6 v-1.4 M394.54 116.3 v1.4" stroke="#8a8a8a" stroke-width="0.8"/>
<path d="M396.4 205.6 v-2.6 M396.4 116.3 v2.6" stroke="#555" stroke-width="0.8"/>
<path d="M408.65 205.6 v-1.4 M408.65 116.3 v1.4" stroke="#8a8a8a" stroke-width="0.8"/>
<path d="M415.82 205.6 v-1.4 M415.82 116.3 v1.4" stroke="#8a8a8a" stroke-width="0.8"/>
<path d="M420.9 205.6 v-1.4 M420.9 116.3 v1.4" stroke="#8a8a8a" stroke-width="0.8"/>
<path d="M424.85 205.6 v-1.4 M424.85 116.3 v1.4" stroke="#8a8a8a" stroke-width="0.8"/>
<path d="M428.07 205.6 v-1.4 M428.07 116.3 v1.4" stroke="#8a8a8a" stroke-width="0.8"/>
<path d="M430.8 205.6 v-1.4 M430.8 116.3 v1.4" stroke="#8a8a8a" stroke-width="0.8"/>
<path d="M433.16 205.6 v-1.4 M433.16 116.3 v1.4" stroke="#8a8a8a" stroke-width="0.8"/>
<path d="M435.24 205.6 v-1.4 M435.24 116.3 v1.4" stroke="#8a8a8a" stroke-width="0.8"/>
<path d="M437.1 205.6 v-2.6 M437.1 116.3 v2.6" stroke="#555" stroke-width="0.8"/>
<path d="M449.35 205.6 v-1.4 M449.35 116.3 v1.4" stroke="#8a8a8a" stroke-width="0.8"/>
<path d="M456.52 205.6 v-1.4 M456.52 116.3 v1.4" stroke="#8a8a8a" stroke-width="0.8"/>
<path d="M461.6 205.6 v-1.4 M461.6 116.3 v1.4" stroke="#8a8a8a" stroke-width="0.8"/>
<path d="M465.55 205.6 v-1.4 M465.55 116.3 v1.4" stroke="#8a8a8a" stroke-width="0.8"/>
<path d="M468.77 205.6 v-1.4 M468.77 116.3 v1.4" stroke="#8a8a8a" stroke-width="0.8"/>
<path d="M471.5 205.6 v-1.4 M471.5 116.3 v1.4" stroke="#8a8a8a" stroke-width="0.8"/>
<path d="M473.86 205.6 v-1.4 M473.86 116.3 v1.4" stroke="#8a8a8a" stroke-width="0.8"/>
<path d="M475.94 205.6 v-1.4 M475.94 116.3 v1.4" stroke="#8a8a8a" stroke-width="0.8"/>
<path d="M477.8 205.6 v-2.6 M477.8 116.3 v2.6" stroke="#555" stroke-width="0.8"/>
<path d="M490.05 205.6 v-1.4 M490.05 116.3 v1.4" stroke="#8a8a8a" stroke-width="0.8"/>
<path d="M497.22 205.6 v-1.4 M497.22 116.3 v1.4" stroke="#8a8a8a" stroke-width="0.8"/>
<path d="M502.3 205.6 v-1.4 M502.3 116.3 v1.4" stroke="#8a8a8a" stroke-width="0.8"/>
<path d="M506.25 205.6 v-1.4 M506.25 116.3 v1.4" stroke="#8a8a8a" stroke-width="0.8"/>
<path d="M509.47 205.6 v-1.4 M509.47 116.3 v1.4" stroke="#8a8a8a" stroke-width="0.8"/>
<path d="M512.2 205.6 v-1.4 M512.2 116.3 v1.4" stroke="#8a8a8a" stroke-width="0.8"/>
<path d="M514.56 205.6 v-1.4 M514.56 116.3 v1.4" stroke="#8a8a8a" stroke-width="0.8"/>
<path d="M516.64 205.6 v-1.4 M516.64 116.3 v1.4" stroke="#8a8a8a" stroke-width="0.8"/>
<path d="M518.5 205.6 v-2.6 M518.5 116.3 v2.6" stroke="#555" stroke-width="0.8"/>
<path d="M530.75 205.6 v-1.4 M530.75 116.3 v1.4" stroke="#8a8a8a" stroke-width="0.8"/>
<path d="M537.92 205.6 v-1.4 M537.92 116.3 v1.4" stroke="#8a8a8a" stroke-width="0.8"/>
<path d="M543 205.6 v-1.4 M543 116.3 v1.4" stroke="#8a8a8a" stroke-width="0.8"/>
<path d="M315.2 205.6 h2.6 M544.4 205.6 h-2.6" stroke="#222" stroke-width="0.8"/>
<path d="M315.2 202.91 h1.7 M544.4 202.91 h-1.7" stroke="#222" stroke-width="0.8"/>
<path d="M315.2 201.34 h1.7 M544.4 201.34 h-1.7" stroke="#222" stroke-width="0.8"/>
<path d="M315.2 200.22 h1.7 M544.4 200.22 h-1.7" stroke="#222" stroke-width="0.8"/>
<path d="M315.2 199.36 h1.7 M544.4 199.36 h-1.7" stroke="#222" stroke-width="0.8"/>
<path d="M315.2 198.65 h1.7 M544.4 198.65 h-1.7" stroke="#222" stroke-width="0.8"/>
<path d="M315.2 198.05 h1.7 M544.4 198.05 h-1.7" stroke="#222" stroke-width="0.8"/>
<path d="M315.2 197.54 h1.7 M544.4 197.54 h-1.7" stroke="#222" stroke-width="0.8"/>
<path d="M315.2 197.08 h1.7 M544.4 197.08 h-1.7" stroke="#222" stroke-width="0.8"/>
<path d="M315.2 196.67 h2.6 M544.4 196.67 h-2.6" stroke="#222" stroke-width="0.8"/>
<path d="M315.2 193.98 h1.7 M544.4 193.98 h-1.7" stroke="#222" stroke-width="0.8"/>
<path d="M315.2 192.41 h1.7 M544.4 192.41 h-1.7" stroke="#222" stroke-width="0.8"/>
<path d="M315.2 191.29 h1.7 M544.4 191.29 h-1.7" stroke="#222" stroke-width="0.8"/>
<path d="M315.2 190.43 h1.7 M544.4 190.43 h-1.7" stroke="#222" stroke-width="0.8"/>
<path d="M315.2 189.72 h1.7 M544.4 189.72 h-1.7" stroke="#222" stroke-width="0.8"/>
<path d="M315.2 189.12 h1.7 M544.4 189.12 h-1.7" stroke="#222" stroke-width="0.8"/>
<path d="M315.2 188.61 h1.7 M544.4 188.61 h-1.7" stroke="#222" stroke-width="0.8"/>
<path d="M315.2 188.15 h1.7 M544.4 188.15 h-1.7" stroke="#222" stroke-width="0.8"/>
<path d="M315.2 187.74 h2.6 M544.4 187.74 h-2.6" stroke="#222" stroke-width="0.8"/>
<path d="M315.2 185.05 h1.7 M544.4 185.05 h-1.7" stroke="#222" stroke-width="0.8"/>
<path d="M315.2 183.48 h1.7 M544.4 183.48 h-1.7" stroke="#222" stroke-width="0.8"/>
<path d="M315.2 182.36 h1.7 M544.4 182.36 h-1.7" stroke="#222" stroke-width="0.8"/>
<path d="M315.2 181.5 h1.7 M544.4 181.5 h-1.7" stroke="#222" stroke-width="0.8"/>
<path d="M315.2 180.79 h1.7 M544.4 180.79 h-1.7" stroke="#222" stroke-width="0.8"/>
<path d="M315.2 180.19 h1.7 M544.4 180.19 h-1.7" stroke="#222" stroke-width="0.8"/>
<path d="M315.2 179.68 h1.7 M544.4 179.68 h-1.7" stroke="#222" stroke-width="0.8"/>
<path d="M315.2 179.22 h1.7 M544.4 179.22 h-1.7" stroke="#222" stroke-width="0.8"/>
<path d="M315.2 178.81 h2.6 M544.4 178.81 h-2.6" stroke="#222" stroke-width="0.8"/>
<path d="M315.2 176.12 h1.7 M544.4 176.12 h-1.7" stroke="#222" stroke-width="0.8"/>
<path d="M315.2 174.55 h1.7 M544.4 174.55 h-1.7" stroke="#222" stroke-width="0.8"/>
<path d="M315.2 173.43 h1.7 M544.4 173.43 h-1.7" stroke="#222" stroke-width="0.8"/>
<path d="M315.2 172.57 h1.7 M544.4 172.57 h-1.7" stroke="#222" stroke-width="0.8"/>
<path d="M315.2 171.86 h1.7 M544.4 171.86 h-1.7" stroke="#222" stroke-width="0.8"/>
<path d="M315.2 171.26 h1.7 M544.4 171.26 h-1.7" stroke="#222" stroke-width="0.8"/>
<path d="M315.2 170.75 h1.7 M544.4 170.75 h-1.7" stroke="#222" stroke-width="0.8"/>
<path d="M315.2 170.29 h1.7 M544.4 170.29 h-1.7" stroke="#222" stroke-width="0.8"/>
<path d="M315.2 169.88 h2.6 M544.4 169.88 h-2.6" stroke="#222" stroke-width="0.8"/>
<path d="M315.2 167.19 h1.7 M544.4 167.19 h-1.7" stroke="#222" stroke-width="0.8"/>
<path d="M315.2 165.62 h1.7 M544.4 165.62 h-1.7" stroke="#222" stroke-width="0.8"/>
<path d="M315.2 164.5 h1.7 M544.4 164.5 h-1.7" stroke="#222" stroke-width="0.8"/>
<path d="M315.2 163.64 h1.7 M544.4 163.64 h-1.7" stroke="#222" stroke-width="0.8"/>
<path d="M315.2 162.93 h1.7 M544.4 162.93 h-1.7" stroke="#222" stroke-width="0.8"/>
<path d="M315.2 162.33 h1.7 M544.4 162.33 h-1.7" stroke="#222" stroke-width="0.8"/>
<path d="M315.2 161.82 h1.7 M544.4 161.82 h-1.7" stroke="#222" stroke-width="0.8"/>
<path d="M315.2 161.36 h1.7 M544.4 161.36 h-1.7" stroke="#222" stroke-width="0.8"/>
<path d="M315.2 160.95 h2.6 M544.4 160.95 h-2.6" stroke="#222" stroke-width="0.8"/>
<path d="M315.2 158.26 h1.7 M544.4 158.26 h-1.7" stroke="#222" stroke-width="0.8"/>
<path d="M315.2 156.69 h1.7 M544.4 156.69 h-1.7" stroke="#222" stroke-width="0.8"/>
<path d="M315.2 155.57 h1.7 M544.4 155.57 h-1.7" stroke="#222" stroke-width="0.8"/>
<path d="M315.2 154.71 h1.7 M544.4 154.71 h-1.7" stroke="#222" stroke-width="0.8"/>
<path d="M315.2 154 h1.7 M544.4 154 h-1.7" stroke="#222" stroke-width="0.8"/>
<path d="M315.2 153.4 h1.7 M544.4 153.4 h-1.7" stroke="#222" stroke-width="0.8"/>
<path d="M315.2 152.89 h1.7 M544.4 152.89 h-1.7" stroke="#222" stroke-width="0.8"/>
<path d="M315.2 152.43 h1.7 M544.4 152.43 h-1.7" stroke="#222" stroke-width="0.8"/>
<path d="M315.2 152.02 h2.6 M544.4 152.02 h-2.6" stroke="#222" stroke-width="0.8"/>
<path d="M315.2 149.33 h1.7 M544.4 149.33 h-1.7" stroke="#222" stroke-width="0.8"/>
<path d="M315.2 147.76 h1.7 M544.4 147.76 h-1.7" stroke="#222" stroke-width="0.8"/>
<path d="M315.2 146.64 h1.7 M544.4 146.64 h-1.7" stroke="#222" stroke-width="0.8"/>
<path d="M315.2 145.78 h1.7 M544.4 145.78 h-1.7" stroke="#222" stroke-width="0.8"/>
<path d="M315.2 145.07 h1.7 M544.4 145.07 h-1.7" stroke="#222" stroke-width="0.8"/>
<path d="M315.2 144.47 h1.7 M544.4 144.47 h-1.7" stroke="#222" stroke-width="0.8"/>
<path d="M315.2 143.96 h1.7 M544.4 143.96 h-1.7" stroke="#222" stroke-width="0.8"/>
<path d="M315.2 143.5 h1.7 M544.4 143.5 h-1.7" stroke="#222" stroke-width="0.8"/>
<path d="M315.2 143.09 h2.6 M544.4 143.09 h-2.6" stroke="#222" stroke-width="0.8"/>
<path d="M315.2 140.4 h1.7 M544.4 140.4 h-1.7" stroke="#222" stroke-width="0.8"/>
<path d="M315.2 138.83 h1.7 M544.4 138.83 h-1.7" stroke="#222" stroke-width="0.8"/>
<path d="M315.2 137.71 h1.7 M544.4 137.71 h-1.7" stroke="#222" stroke-width="0.8"/>
<path d="M315.2 136.85 h1.7 M544.4 136.85 h-1.7" stroke="#222" stroke-width="0.8"/>
<path d="M315.2 136.14 h1.7 M544.4 136.14 h-1.7" stroke="#222" stroke-width="0.8"/>
<path d="M315.2 135.54 h1.7 M544.4 135.54 h-1.7" stroke="#222" stroke-width="0.8"/>
<path d="M315.2 135.03 h1.7 M544.4 135.03 h-1.7" stroke="#222" stroke-width="0.8"/>
<path d="M315.2 134.57 h1.7 M544.4 134.57 h-1.7" stroke="#222" stroke-width="0.8"/>
<path d="M315.2 134.16 h2.6 M544.4 134.16 h-2.6" stroke="#222" stroke-width="0.8"/>
<path d="M315.2 131.47 h1.7 M544.4 131.47 h-1.7" stroke="#222" stroke-width="0.8"/>
<path d="M315.2 129.9 h1.7 M544.4 129.9 h-1.7" stroke="#222" stroke-width="0.8"/>
<path d="M315.2 128.78 h1.7 M544.4 128.78 h-1.7" stroke="#222" stroke-width="0.8"/>
<path d="M315.2 127.92 h1.7 M544.4 127.92 h-1.7" stroke="#222" stroke-width="0.8"/>
<path d="M315.2 127.21 h1.7 M544.4 127.21 h-1.7" stroke="#222" stroke-width="0.8"/>
<path d="M315.2 126.61 h1.7 M544.4 126.61 h-1.7" stroke="#222" stroke-width="0.8"/>
<path d="M315.2 126.1 h1.7 M544.4 126.1 h-1.7" stroke="#222" stroke-width="0.8"/>
<path d="M315.2 125.64 h1.7 M544.4 125.64 h-1.7" stroke="#222" stroke-width="0.8"/>
<path d="M315.2 125.23 h2.6 M544.4 125.23 h-2.6" stroke="#222" stroke-width="0.8"/>
<path d="M315.2 122.54 h1.7 M544.4 122.54 h-1.7" stroke="#222" stroke-width="0.8"/>
<path d="M315.2 120.97 h1.7 M544.4 120.97 h-1.7" stroke="#222" stroke-width="0.8"/>
<path d="M315.2 119.85 h1.7 M544.4 119.85 h-1.7" stroke="#222" stroke-width="0.8"/>
<path d="M315.2 118.99 h1.7 M544.4 118.99 h-1.7" stroke="#222" stroke-width="0.8"/>
<path d="M315.2 118.28 h1.7 M544.4 118.28 h-1.7" stroke="#222" stroke-width="0.8"/>
<path d="M315.2 117.68 h1.7 M544.4 117.68 h-1.7" stroke="#222" stroke-width="0.8"/>
<path d="M315.2 117.17 h1.7 M544.4 117.17 h-1.7" stroke="#222" stroke-width="0.8"/>
<path d="M315.2 116.71 h1.7 M544.4 116.71 h-1.7" stroke="#222" stroke-width="0.8"/>
<text x="315.2" y="216.6" font-size="8.2" text-anchor="middle" font-family='"Liberation Sans", sans-serif' fill="#262626" >10<tspan font-size="5.9" dy="-3.5">-5</tspan></text>
<text x="355.9" y="216.6" font-size="8.2" text-anchor="middle" font-family='"Liberation Sans", sans-serif' fill="#262626" >10<tspan font-size="5.9" dy="-3.5">-4</tspan></text>
<text x="396.6" y="216.6" font-size="8.2" text-anchor="middle" font-family='"Liberation Sans", sans-serif' fill="#262626" >10<tspan font-size="5.9" dy="-3.5">-3</tspan></text>
<text x="437.3" y="216.6" font-size="8.2" text-anchor="middle" font-family='"Liberation Sans", sans-serif' fill="#262626" >10<tspan font-size="5.9" dy="-3.5">-2</tspan></text>
<text x="478" y="216.6" font-size="8.2" text-anchor="middle" font-family='"Liberation Sans", sans-serif' fill="#262626" >10<tspan font-size="5.9" dy="-3.5">-1</tspan></text>
<text x="518.7" y="216.6" font-size="8.2" text-anchor="middle" font-family='"Liberation Sans", sans-serif' fill="#262626" >10<tspan font-size="5.9" dy="-3.5">0</tspan></text>
<text x="312" y="208.4" font-size="8.2" text-anchor="end" font-family='"Liberation Sans", sans-serif' fill="#262626" >10<tspan font-size="5.9" dy="-3.5">-8</tspan></text>
<text x="312" y="199.47" font-size="8.2" text-anchor="end" font-family='"Liberation Sans", sans-serif' fill="#262626" >10<tspan font-size="5.9" dy="-3.5">-7</tspan></text>
<text x="312" y="190.54" font-size="8.2" text-anchor="end" font-family='"Liberation Sans", sans-serif' fill="#262626" >10<tspan font-size="5.9" dy="-3.5">-6</tspan></text>
<text x="312" y="181.61" font-size="8.2" text-anchor="end" font-family='"Liberation Sans", sans-serif' fill="#262626" >10<tspan font-size="5.9" dy="-3.5">-5</tspan></text>
<text x="312" y="172.68" font-size="8.2" text-anchor="end" font-family='"Liberation Sans", sans-serif' fill="#262626" >10<tspan font-size="5.9" dy="-3.5">-4</tspan></text>
<text x="312" y="163.75" font-size="8.2" text-anchor="end" font-family='"Liberation Sans", sans-serif' fill="#262626" >10<tspan font-size="5.9" dy="-3.5">-3</tspan></text>
<text x="312" y="154.82" font-size="8.2" text-anchor="end" font-family='"Liberation Sans", sans-serif' fill="#262626" >10<tspan font-size="5.9" dy="-3.5">-2</tspan></text>
<text x="312" y="145.89" font-size="8.2" text-anchor="end" font-family='"Liberation Sans", sans-serif' fill="#262626" >10<tspan font-size="5.9" dy="-3.5">-1</tspan></text>
<text x="312" y="136.96" font-size="8.2" text-anchor="end" font-family='"Liberation Sans", sans-serif' fill="#262626" >10<tspan font-size="5.9" dy="-3.5">0</tspan></text>
<text x="312" y="128.03" font-size="8.2" text-anchor="end" font-family='"Liberation Sans", sans-serif' fill="#262626" >10<tspan font-size="5.9" dy="-3.5">1</tspan></text>
<text x="312" y="119.1" font-size="8.2" text-anchor="end" font-family='"Liberation Sans", sans-serif' fill="#262626" >10<tspan font-size="5.9" dy="-3.5">2</tspan></text>
<text x="317.8" y="127.73" font-size="7.65" font-family='"Liberation Sans", sans-serif' fill="#262626">(ρ*/ρ<tspan font-size="5.35" dy="2.29">s</tspan><tspan dy="-2.29">) = 0.38</tspan></text>
<rect x="315.2" y="225.8" width="229.2" height="89.5" fill="none" stroke="#808080" stroke-width="1"/>
<path d="M315 315.3 v-2.6 M315 225.8 v2.6" stroke="#555" stroke-width="0.8"/>
<path d="M327.25 315.3 v-1.4 M327.25 225.8 v1.4" stroke="#8a8a8a" stroke-width="0.8"/>
<path d="M334.42 315.3 v-1.4 M334.42 225.8 v1.4" stroke="#8a8a8a" stroke-width="0.8"/>
<path d="M339.5 315.3 v-1.4 M339.5 225.8 v1.4" stroke="#8a8a8a" stroke-width="0.8"/>
<path d="M343.45 315.3 v-1.4 M343.45 225.8 v1.4" stroke="#8a8a8a" stroke-width="0.8"/>
<path d="M346.67 315.3 v-1.4 M346.67 225.8 v1.4" stroke="#8a8a8a" stroke-width="0.8"/>
<path d="M349.4 315.3 v-1.4 M349.4 225.8 v1.4" stroke="#8a8a8a" stroke-width="0.8"/>
<path d="M351.76 315.3 v-1.4 M351.76 225.8 v1.4" stroke="#8a8a8a" stroke-width="0.8"/>
<path d="M353.84 315.3 v-1.4 M353.84 225.8 v1.4" stroke="#8a8a8a" stroke-width="0.8"/>
<path d="M355.7 315.3 v-2.6 M355.7 225.8 v2.6" stroke="#555" stroke-width="0.8"/>
<path d="M367.95 315.3 v-1.4 M367.95 225.8 v1.4" stroke="#8a8a8a" stroke-width="0.8"/>
<path d="M375.12 315.3 v-1.4 M375.12 225.8 v1.4" stroke="#8a8a8a" stroke-width="0.8"/>
<path d="M380.2 315.3 v-1.4 M380.2 225.8 v1.4" stroke="#8a8a8a" stroke-width="0.8"/>
<path d="M384.15 315.3 v-1.4 M384.15 225.8 v1.4" stroke="#8a8a8a" stroke-width="0.8"/>
<path d="M387.37 315.3 v-1.4 M387.37 225.8 v1.4" stroke="#8a8a8a" stroke-width="0.8"/>
<path d="M390.1 315.3 v-1.4 M390.1 225.8 v1.4" stroke="#8a8a8a" stroke-width="0.8"/>
<path d="M392.46 315.3 v-1.4 M392.46 225.8 v1.4" stroke="#8a8a8a" stroke-width="0.8"/>
<path d="M394.54 315.3 v-1.4 M394.54 225.8 v1.4" stroke="#8a8a8a" stroke-width="0.8"/>
<path d="M396.4 315.3 v-2.6 M396.4 225.8 v2.6" stroke="#555" stroke-width="0.8"/>
<path d="M408.65 315.3 v-1.4 M408.65 225.8 v1.4" stroke="#8a8a8a" stroke-width="0.8"/>
<path d="M415.82 315.3 v-1.4 M415.82 225.8 v1.4" stroke="#8a8a8a" stroke-width="0.8"/>
<path d="M420.9 315.3 v-1.4 M420.9 225.8 v1.4" stroke="#8a8a8a" stroke-width="0.8"/>
<path d="M424.85 315.3 v-1.4 M424.85 225.8 v1.4" stroke="#8a8a8a" stroke-width="0.8"/>
<path d="M428.07 315.3 v-1.4 M428.07 225.8 v1.4" stroke="#8a8a8a" stroke-width="0.8"/>
<path d="M430.8 315.3 v-1.4 M430.8 225.8 v1.4" stroke="#8a8a8a" stroke-width="0.8"/>
<path d="M433.16 315.3 v-1.4 M433.16 225.8 v1.4" stroke="#8a8a8a" stroke-width="0.8"/>
<path d="M435.24 315.3 v-1.4 M435.24 225.8 v1.4" stroke="#8a8a8a" stroke-width="0.8"/>
<path d="M437.1 315.3 v-2.6 M437.1 225.8 v2.6" stroke="#555" stroke-width="0.8"/>
<path d="M449.35 315.3 v-1.4 M449.35 225.8 v1.4" stroke="#8a8a8a" stroke-width="0.8"/>
<path d="M456.52 315.3 v-1.4 M456.52 225.8 v1.4" stroke="#8a8a8a" stroke-width="0.8"/>
<path d="M461.6 315.3 v-1.4 M461.6 225.8 v1.4" stroke="#8a8a8a" stroke-width="0.8"/>
<path d="M465.55 315.3 v-1.4 M465.55 225.8 v1.4" stroke="#8a8a8a" stroke-width="0.8"/>
<path d="M468.77 315.3 v-1.4 M468.77 225.8 v1.4" stroke="#8a8a8a" stroke-width="0.8"/>
<path d="M471.5 315.3 v-1.4 M471.5 225.8 v1.4" stroke="#8a8a8a" stroke-width="0.8"/>
<path d="M473.86 315.3 v-1.4 M473.86 225.8 v1.4" stroke="#8a8a8a" stroke-width="0.8"/>
<path d="M475.94 315.3 v-1.4 M475.94 225.8 v1.4" stroke="#8a8a8a" stroke-width="0.8"/>
<path d="M477.8 315.3 v-2.6 M477.8 225.8 v2.6" stroke="#555" stroke-width="0.8"/>
<path d="M490.05 315.3 v-1.4 M490.05 225.8 v1.4" stroke="#8a8a8a" stroke-width="0.8"/>
<path d="M497.22 315.3 v-1.4 M497.22 225.8 v1.4" stroke="#8a8a8a" stroke-width="0.8"/>
<path d="M502.3 315.3 v-1.4 M502.3 225.8 v1.4" stroke="#8a8a8a" stroke-width="0.8"/>
<path d="M506.25 315.3 v-1.4 M506.25 225.8 v1.4" stroke="#8a8a8a" stroke-width="0.8"/>
<path d="M509.47 315.3 v-1.4 M509.47 225.8 v1.4" stroke="#8a8a8a" stroke-width="0.8"/>
<path d="M512.2 315.3 v-1.4 M512.2 225.8 v1.4" stroke="#8a8a8a" stroke-width="0.8"/>
<path d="M514.56 315.3 v-1.4 M514.56 225.8 v1.4" stroke="#8a8a8a" stroke-width="0.8"/>
<path d="M516.64 315.3 v-1.4 M516.64 225.8 v1.4" stroke="#8a8a8a" stroke-width="0.8"/>
<path d="M518.5 315.3 v-2.6 M518.5 225.8 v2.6" stroke="#555" stroke-width="0.8"/>
<path d="M530.75 315.3 v-1.4 M530.75 225.8 v1.4" stroke="#8a8a8a" stroke-width="0.8"/>
<path d="M537.92 315.3 v-1.4 M537.92 225.8 v1.4" stroke="#8a8a8a" stroke-width="0.8"/>
<path d="M543 315.3 v-1.4 M543 225.8 v1.4" stroke="#8a8a8a" stroke-width="0.8"/>
<path d="M315.2 315.3 h2.6 M544.4 315.3 h-2.6" stroke="#222" stroke-width="0.8"/>
<path d="M315.2 312.61 h1.7 M544.4 312.61 h-1.7" stroke="#222" stroke-width="0.8"/>
<path d="M315.2 311.03 h1.7 M544.4 311.03 h-1.7" stroke="#222" stroke-width="0.8"/>
<path d="M315.2 309.91 h1.7 M544.4 309.91 h-1.7" stroke="#222" stroke-width="0.8"/>
<path d="M315.2 309.04 h1.7 M544.4 309.04 h-1.7" stroke="#222" stroke-width="0.8"/>
<path d="M315.2 308.34 h1.7 M544.4 308.34 h-1.7" stroke="#222" stroke-width="0.8"/>
<path d="M315.2 307.74 h1.7 M544.4 307.74 h-1.7" stroke="#222" stroke-width="0.8"/>
<path d="M315.2 307.22 h1.7 M544.4 307.22 h-1.7" stroke="#222" stroke-width="0.8"/>
<path d="M315.2 306.76 h1.7 M544.4 306.76 h-1.7" stroke="#222" stroke-width="0.8"/>
<path d="M315.2 306.35 h2.6 M544.4 306.35 h-2.6" stroke="#222" stroke-width="0.8"/>
<path d="M315.2 303.66 h1.7 M544.4 303.66 h-1.7" stroke="#222" stroke-width="0.8"/>
<path d="M315.2 302.08 h1.7 M544.4 302.08 h-1.7" stroke="#222" stroke-width="0.8"/>
<path d="M315.2 300.96 h1.7 M544.4 300.96 h-1.7" stroke="#222" stroke-width="0.8"/>
<path d="M315.2 300.09 h1.7 M544.4 300.09 h-1.7" stroke="#222" stroke-width="0.8"/>
<path d="M315.2 299.39 h1.7 M544.4 299.39 h-1.7" stroke="#222" stroke-width="0.8"/>
<path d="M315.2 298.79 h1.7 M544.4 298.79 h-1.7" stroke="#222" stroke-width="0.8"/>
<path d="M315.2 298.27 h1.7 M544.4 298.27 h-1.7" stroke="#222" stroke-width="0.8"/>
<path d="M315.2 297.81 h1.7 M544.4 297.81 h-1.7" stroke="#222" stroke-width="0.8"/>
<path d="M315.2 297.4 h2.6 M544.4 297.4 h-2.6" stroke="#222" stroke-width="0.8"/>
<path d="M315.2 294.71 h1.7 M544.4 294.71 h-1.7" stroke="#222" stroke-width="0.8"/>
<path d="M315.2 293.13 h1.7 M544.4 293.13 h-1.7" stroke="#222" stroke-width="0.8"/>
<path d="M315.2 292.01 h1.7 M544.4 292.01 h-1.7" stroke="#222" stroke-width="0.8"/>
<path d="M315.2 291.14 h1.7 M544.4 291.14 h-1.7" stroke="#222" stroke-width="0.8"/>
<path d="M315.2 290.44 h1.7 M544.4 290.44 h-1.7" stroke="#222" stroke-width="0.8"/>
<path d="M315.2 289.84 h1.7 M544.4 289.84 h-1.7" stroke="#222" stroke-width="0.8"/>
<path d="M315.2 289.32 h1.7 M544.4 289.32 h-1.7" stroke="#222" stroke-width="0.8"/>
<path d="M315.2 288.86 h1.7 M544.4 288.86 h-1.7" stroke="#222" stroke-width="0.8"/>
<path d="M315.2 288.45 h2.6 M544.4 288.45 h-2.6" stroke="#222" stroke-width="0.8"/>
<path d="M315.2 285.76 h1.7 M544.4 285.76 h-1.7" stroke="#222" stroke-width="0.8"/>
<path d="M315.2 284.18 h1.7 M544.4 284.18 h-1.7" stroke="#222" stroke-width="0.8"/>
<path d="M315.2 283.06 h1.7 M544.4 283.06 h-1.7" stroke="#222" stroke-width="0.8"/>
<path d="M315.2 282.19 h1.7 M544.4 282.19 h-1.7" stroke="#222" stroke-width="0.8"/>
<path d="M315.2 281.49 h1.7 M544.4 281.49 h-1.7" stroke="#222" stroke-width="0.8"/>
<path d="M315.2 280.89 h1.7 M544.4 280.89 h-1.7" stroke="#222" stroke-width="0.8"/>
<path d="M315.2 280.37 h1.7 M544.4 280.37 h-1.7" stroke="#222" stroke-width="0.8"/>
<path d="M315.2 279.91 h1.7 M544.4 279.91 h-1.7" stroke="#222" stroke-width="0.8"/>
<path d="M315.2 279.5 h2.6 M544.4 279.5 h-2.6" stroke="#222" stroke-width="0.8"/>
<path d="M315.2 276.81 h1.7 M544.4 276.81 h-1.7" stroke="#222" stroke-width="0.8"/>
<path d="M315.2 275.23 h1.7 M544.4 275.23 h-1.7" stroke="#222" stroke-width="0.8"/>
<path d="M315.2 274.11 h1.7 M544.4 274.11 h-1.7" stroke="#222" stroke-width="0.8"/>
<path d="M315.2 273.24 h1.7 M544.4 273.24 h-1.7" stroke="#222" stroke-width="0.8"/>
<path d="M315.2 272.54 h1.7 M544.4 272.54 h-1.7" stroke="#222" stroke-width="0.8"/>
<path d="M315.2 271.94 h1.7 M544.4 271.94 h-1.7" stroke="#222" stroke-width="0.8"/>
<path d="M315.2 271.42 h1.7 M544.4 271.42 h-1.7" stroke="#222" stroke-width="0.8"/>
<path d="M315.2 270.96 h1.7 M544.4 270.96 h-1.7" stroke="#222" stroke-width="0.8"/>
<path d="M315.2 270.55 h2.6 M544.4 270.55 h-2.6" stroke="#222" stroke-width="0.8"/>
<path d="M315.2 267.86 h1.7 M544.4 267.86 h-1.7" stroke="#222" stroke-width="0.8"/>
<path d="M315.2 266.28 h1.7 M544.4 266.28 h-1.7" stroke="#222" stroke-width="0.8"/>
<path d="M315.2 265.16 h1.7 M544.4 265.16 h-1.7" stroke="#222" stroke-width="0.8"/>
<path d="M315.2 264.29 h1.7 M544.4 264.29 h-1.7" stroke="#222" stroke-width="0.8"/>
<path d="M315.2 263.59 h1.7 M544.4 263.59 h-1.7" stroke="#222" stroke-width="0.8"/>
<path d="M315.2 262.99 h1.7 M544.4 262.99 h-1.7" stroke="#222" stroke-width="0.8"/>
<path d="M315.2 262.47 h1.7 M544.4 262.47 h-1.7" stroke="#222" stroke-width="0.8"/>
<path d="M315.2 262.01 h1.7 M544.4 262.01 h-1.7" stroke="#222" stroke-width="0.8"/>
<path d="M315.2 261.6 h2.6 M544.4 261.6 h-2.6" stroke="#222" stroke-width="0.8"/>
<path d="M315.2 258.91 h1.7 M544.4 258.91 h-1.7" stroke="#222" stroke-width="0.8"/>
<path d="M315.2 257.33 h1.7 M544.4 257.33 h-1.7" stroke="#222" stroke-width="0.8"/>
<path d="M315.2 256.21 h1.7 M544.4 256.21 h-1.7" stroke="#222" stroke-width="0.8"/>
<path d="M315.2 255.34 h1.7 M544.4 255.34 h-1.7" stroke="#222" stroke-width="0.8"/>
<path d="M315.2 254.64 h1.7 M544.4 254.64 h-1.7" stroke="#222" stroke-width="0.8"/>
<path d="M315.2 254.04 h1.7 M544.4 254.04 h-1.7" stroke="#222" stroke-width="0.8"/>
<path d="M315.2 253.52 h1.7 M544.4 253.52 h-1.7" stroke="#222" stroke-width="0.8"/>
<path d="M315.2 253.06 h1.7 M544.4 253.06 h-1.7" stroke="#222" stroke-width="0.8"/>
<path d="M315.2 252.65 h2.6 M544.4 252.65 h-2.6" stroke="#222" stroke-width="0.8"/>
<path d="M315.2 249.96 h1.7 M544.4 249.96 h-1.7" stroke="#222" stroke-width="0.8"/>
<path d="M315.2 248.38 h1.7 M544.4 248.38 h-1.7" stroke="#222" stroke-width="0.8"/>
<path d="M315.2 247.26 h1.7 M544.4 247.26 h-1.7" stroke="#222" stroke-width="0.8"/>
<path d="M315.2 246.39 h1.7 M544.4 246.39 h-1.7" stroke="#222" stroke-width="0.8"/>
<path d="M315.2 245.69 h1.7 M544.4 245.69 h-1.7" stroke="#222" stroke-width="0.8"/>
<path d="M315.2 245.09 h1.7 M544.4 245.09 h-1.7" stroke="#222" stroke-width="0.8"/>
<path d="M315.2 244.57 h1.7 M544.4 244.57 h-1.7" stroke="#222" stroke-width="0.8"/>
<path d="M315.2 244.11 h1.7 M544.4 244.11 h-1.7" stroke="#222" stroke-width="0.8"/>
<path d="M315.2 243.7 h2.6 M544.4 243.7 h-2.6" stroke="#222" stroke-width="0.8"/>
<path d="M315.2 241.01 h1.7 M544.4 241.01 h-1.7" stroke="#222" stroke-width="0.8"/>
<path d="M315.2 239.43 h1.7 M544.4 239.43 h-1.7" stroke="#222" stroke-width="0.8"/>
<path d="M315.2 238.31 h1.7 M544.4 238.31 h-1.7" stroke="#222" stroke-width="0.8"/>
<path d="M315.2 237.44 h1.7 M544.4 237.44 h-1.7" stroke="#222" stroke-width="0.8"/>
<path d="M315.2 236.74 h1.7 M544.4 236.74 h-1.7" stroke="#222" stroke-width="0.8"/>
<path d="M315.2 236.14 h1.7 M544.4 236.14 h-1.7" stroke="#222" stroke-width="0.8"/>
<path d="M315.2 235.62 h1.7 M544.4 235.62 h-1.7" stroke="#222" stroke-width="0.8"/>
<path d="M315.2 235.16 h1.7 M544.4 235.16 h-1.7" stroke="#222" stroke-width="0.8"/>
<path d="M315.2 234.75 h2.6 M544.4 234.75 h-2.6" stroke="#222" stroke-width="0.8"/>
<path d="M315.2 232.06 h1.7 M544.4 232.06 h-1.7" stroke="#222" stroke-width="0.8"/>
<path d="M315.2 230.48 h1.7 M544.4 230.48 h-1.7" stroke="#222" stroke-width="0.8"/>
<path d="M315.2 229.36 h1.7 M544.4 229.36 h-1.7" stroke="#222" stroke-width="0.8"/>
<path d="M315.2 228.49 h1.7 M544.4 228.49 h-1.7" stroke="#222" stroke-width="0.8"/>
<path d="M315.2 227.79 h1.7 M544.4 227.79 h-1.7" stroke="#222" stroke-width="0.8"/>
<path d="M315.2 227.19 h1.7 M544.4 227.19 h-1.7" stroke="#222" stroke-width="0.8"/>
<path d="M315.2 226.67 h1.7 M544.4 226.67 h-1.7" stroke="#222" stroke-width="0.8"/>
<path d="M315.2 226.21 h1.7 M544.4 226.21 h-1.7" stroke="#222" stroke-width="0.8"/>
<text x="315.2" y="326.3" font-size="8.2" text-anchor="middle" font-family='"Liberation Sans", sans-serif' fill="#262626" >10<tspan font-size="5.9" dy="-3.5">-5</tspan></text>
<text x="355.9" y="326.3" font-size="8.2" text-anchor="middle" font-family='"Liberation Sans", sans-serif' fill="#262626" >10<tspan font-size="5.9" dy="-3.5">-4</tspan></text>
<text x="396.6" y="326.3" font-size="8.2" text-anchor="middle" font-family='"Liberation Sans", sans-serif' fill="#262626" >10<tspan font-size="5.9" dy="-3.5">-3</tspan></text>
<text x="437.3" y="326.3" font-size="8.2" text-anchor="middle" font-family='"Liberation Sans", sans-serif' fill="#262626" >10<tspan font-size="5.9" dy="-3.5">-2</tspan></text>
<text x="478" y="326.3" font-size="8.2" text-anchor="middle" font-family='"Liberation Sans", sans-serif' fill="#262626" >10<tspan font-size="5.9" dy="-3.5">-1</tspan></text>
<text x="518.7" y="326.3" font-size="8.2" text-anchor="middle" font-family='"Liberation Sans", sans-serif' fill="#262626" >10<tspan font-size="5.9" dy="-3.5">0</tspan></text>
<text x="312" y="318.1" font-size="8.2" text-anchor="end" font-family='"Liberation Sans", sans-serif' fill="#262626" >10<tspan font-size="5.9" dy="-3.5">-8</tspan></text>
<text x="312" y="309.15" font-size="8.2" text-anchor="end" font-family='"Liberation Sans", sans-serif' fill="#262626" >10<tspan font-size="5.9" dy="-3.5">-7</tspan></text>
<text x="312" y="300.2" font-size="8.2" text-anchor="end" font-family='"Liberation Sans", sans-serif' fill="#262626" >10<tspan font-size="5.9" dy="-3.5">-6</tspan></text>
<text x="312" y="291.25" font-size="8.2" text-anchor="end" font-family='"Liberation Sans", sans-serif' fill="#262626" >10<tspan font-size="5.9" dy="-3.5">-5</tspan></text>
<text x="312" y="282.3" font-size="8.2" text-anchor="end" font-family='"Liberation Sans", sans-serif' fill="#262626" >10<tspan font-size="5.9" dy="-3.5">-4</tspan></text>
<text x="312" y="273.35" font-size="8.2" text-anchor="end" font-family='"Liberation Sans", sans-serif' fill="#262626" >10<tspan font-size="5.9" dy="-3.5">-3</tspan></text>
<text x="312" y="264.4" font-size="8.2" text-anchor="end" font-family='"Liberation Sans", sans-serif' fill="#262626" >10<tspan font-size="5.9" dy="-3.5">-2</tspan></text>
<text x="312" y="255.45" font-size="8.2" text-anchor="end" font-family='"Liberation Sans", sans-serif' fill="#262626" >10<tspan font-size="5.9" dy="-3.5">-1</tspan></text>
<text x="312" y="246.5" font-size="8.2" text-anchor="end" font-family='"Liberation Sans", sans-serif' fill="#262626" >10<tspan font-size="5.9" dy="-3.5">0</tspan></text>
<text x="312" y="237.55" font-size="8.2" text-anchor="end" font-family='"Liberation Sans", sans-serif' fill="#262626" >10<tspan font-size="5.9" dy="-3.5">1</tspan></text>
<text x="312" y="228.6" font-size="8.2" text-anchor="end" font-family='"Liberation Sans", sans-serif' fill="#262626" >10<tspan font-size="5.9" dy="-3.5">2</tspan></text>
<text x="317.8" y="237.25" font-size="7.65" font-family='"Liberation Sans", sans-serif' fill="#262626">(ρ*/ρ<tspan font-size="5.35" dy="2.29">s</tspan><tspan dy="-2.29">) = 0.38</tspan></text>
<path d="M370 86.5 L377 82.5 L385 77 L393 71.5 L397 67.5 L396.5 65.5 L392 64.2 L403 62.7 L367 62.3 L400 61.6 L388 60.7 L402 60.5 L389 58.9 L408 58.7 L388 57.6 L406 57.4 L393.6 56.6 L407 56.4 L401 53.8 L411 54.5 L406 54.7 L410 53.4 L411 51 L420 50.8 L412 50.6 L421 49.5 L430 46.5 L440 41.8 L450 36.8 L460 32.3 L470 27.3 L474.7 21.5 L478 18.8" fill="none" stroke="#111111" stroke-width="1.0" stroke-linejoin="round" stroke-linecap="round" />
<path d="M400.3 53.4 L413.4 53.6" fill="none" stroke="#111111" stroke-width="1.2" stroke-linejoin="round" stroke-linecap="round" />
<path d="M393 57.3 L409.7 55.2" fill="none" stroke="#111111" stroke-width="1.2" stroke-linejoin="round" stroke-linecap="round" />
<path d="M411.2 50.4 L427.9 47" fill="none" stroke="#111111" stroke-width="1.7" stroke-linejoin="round" stroke-linecap="round" />
<path d="M425 45.6 L433 44" fill="none" stroke="#111111" stroke-width="1.2" stroke-linejoin="round" stroke-linecap="round" />
<path d="M393 59.3 L408.3 59.2" fill="none" stroke="#111111" stroke-width="1.5" stroke-linejoin="round" stroke-linecap="round" />
<path d="M393 61.6 L401.7 63.1" fill="none" stroke="#111111" stroke-width="1.0" stroke-linejoin="round" stroke-linecap="round" />
<path d="M414 49.6 L424 47.4" fill="none" stroke="#111111" stroke-width="1.2" stroke-linejoin="round" stroke-linecap="round" />
<path d="M400.3 53.4 L413.4 52.5 L413.4 54.6 Z" fill="#111"/><path d="M411 50.6 L423 48.2 L423.5 50.2 Z" fill="#111"/><path d="M389 58.9 L408.3 58.0 L408.3 60.0 Z" fill="#111"/>
<circle cx="409.7" cy="54.9" r="1.1" fill="#111"/><circle cx="418.5" cy="51.3" r="1.0" fill="#111"/><circle cx="397" cy="58.4" r="0.9" fill="#111"/>
<path d="M422.6 68.4 L422.8 64 L422.8 61.8 L422.1 58.9 L417 58.3 L417 57.1 L422.8 54.5 L424.3 51.6 L429.4 46.9" fill="none" stroke="#ff1a1a" stroke-width="0.9" stroke-linejoin="round" stroke-linecap="round" />
<path d="M429.4 46.9 L433 44.6 L440 41.6 L450 36.8 L460 32.3 L470 27.3 L474.7 21.3 L478 18.8" fill="none" stroke="#ff1a1a" stroke-width="1.1" stroke-linejoin="round" stroke-linecap="round" />
<path d="M338.8 23.4 L460 23 L465 22.8 L470.6 21.6 L476.4 19.2 L479.6 18.6" fill="none" stroke="#2c22c8" stroke-width="1.35" stroke-linejoin="round" stroke-linecap="round" />
<path d="M428.4 67.6 L428.6 64 L427.2 61.1 L425 57.5 L425.7 55.3 L430.8 53.5 L428.6 50.9 L433 46.3" fill="none" stroke="#1a1aff" stroke-width="0.9" stroke-linejoin="round" stroke-linecap="round" />
<path d="M433 46.3 L440 42.4 L450 37 L460 32.5 L470 27.5 L473 24.5 L474.7 21.3 L478 18.8 L480 18.5 L491 17.8 L505 16.2 L529 13.8" fill="none" stroke="#1a1aff" stroke-width="1.4" stroke-linejoin="round" stroke-linecap="round" />
<path d="M357.9 197.3 L364.3 193.8 L370.2 189.7 L378.3 186.2 L385.3 183.9 L390 181 L393.5 177.5 L395.2 175.7 L381.2 174.3 L393.5 174.1 L391 172 L394.6 171.7 L367.2 169.2 L401.6 169.9 L375.4 169.6 L405 169.1 L398 166.2 L408 166 L381.2 166.4 L406.3 166.2 L410 163.2 L412.5 163 L408 160.7 L420 160.5 L419 157.7 L426 157.5 L428 155.2 L433 155 L437 153.5 L450 147.3 L460 143 L470 138.2 L475 136 L478 134 L480 132 L481 130 L482 128.7 L485 127.5" fill="none" stroke="#111111" stroke-width="1.0" stroke-linejoin="round" stroke-linecap="round" />
<path d="M398 166.3 L408 166" fill="none" stroke="#111111" stroke-width="1.6" stroke-linejoin="round" stroke-linecap="round" />
<path d="M408 160.8 L420 160.4" fill="none" stroke="#111111" stroke-width="1.6" stroke-linejoin="round" stroke-linecap="round" />
<path d="M419 157.8 L426 157.4" fill="none" stroke="#111111" stroke-width="1.4" stroke-linejoin="round" stroke-linecap="round" />
<path d="M428 155.3 L433 154.9" fill="none" stroke="#111111" stroke-width="1.3" stroke-linejoin="round" stroke-linecap="round" />
<path d="M395 169 L405 168.8" fill="none" stroke="#111111" stroke-width="1.3" stroke-linejoin="round" stroke-linecap="round" />
<path d="M410 163.2 L416 162.6" fill="none" stroke="#111111" stroke-width="1.2" stroke-linejoin="round" stroke-linecap="round" />
<circle cx="404" cy="166" r="1.1" fill="#111"/><circle cx="413" cy="160.6" r="1.0" fill="#111"/>
<path d="M387 169.8 L400 168.9 L400 170.9 Z" fill="#111"/>
<path d="M398 165.6 L407 164 L407 167 Z" fill="#111"/>
<path d="M407 161 L418.5 159 L418.5 162.2 Z" fill="#111"/>
<path d="M418.5 158.6 L427.5 156.6 L427.5 159.6 Z" fill="#111"/>
<path d="M427 155.8 L434 154 L434 156.4 Z" fill="#111"/>
<path d="M417.5 178 L418.5 171 L419 169.5 L413 168 L416 166.5 L418 164.5 L416.5 164 L420 162 L419 161 L423 159.5 L422 158.5 L426 157 L430 155" fill="none" stroke="#ff1a1a" stroke-width="0.9" stroke-linejoin="round" stroke-linecap="round" />
<path d="M430 155 L437 153.3 L450 147.1 L460 142.8 L470 138 L475 135.8 L478 133.8 L480 131.8 L481 129.8 L482 128.6 L485 127.5" fill="none" stroke="#ff1a1a" stroke-width="1.1" stroke-linejoin="round" stroke-linecap="round" />
<path d="M338.8 132.6 L450 132.8 L460 132.6 L470 132.1 L477 131.1 L480 130.1 L483 128.6 L485 127.6" fill="none" stroke="#4a3fd0" stroke-width="1.5" stroke-linejoin="round" stroke-linecap="round" />
<path d="M429.5 177 L427 173 L424.5 169 L427 166.5 L431 163.5 L432 160.5 L429 159 L433 157 L437 154.5" fill="none" stroke="#1a1aff" stroke-width="0.9" stroke-linejoin="round" stroke-linecap="round" />
<path d="M437 154.5 L450 147.3 L460 143 L470 138.2 L475 136 L478 134 L480 132 L481 130 L482 128.7 L485 127.5 L490 126.8 L505 125.3 L523.5 123.7" fill="none" stroke="#1a1aff" stroke-width="1.4" stroke-linejoin="round" stroke-linecap="round" />
<rect x="358" y="280" width="34" height="2.2" fill="#8a8a8a"/>
<path d="M339 279.5 L402.5 279.9" fill="none" stroke="#707070" stroke-width="1.0" stroke-linejoin="round" stroke-linecap="round" />
<path d="M339 282.5 L393.8 282.3" fill="none" stroke="#111" stroke-width="1.5" stroke-linejoin="round" stroke-linecap="round" />
<path d="M386 280.3 L402.5 280.2" fill="none" stroke="#111" stroke-width="1.3" stroke-linejoin="round" stroke-linecap="round" />
<path d="M397.3 275.0 L410.6 274.0 L410.6 276.4 Z" fill="#111"/>
<path d="M409.5 270.4 L422 269.2 L422 271.4 Z" fill="#111"/>
<path d="M388 278.6 L404 278.6 L404 280.4 Z" fill="#222"/>
<path d="M413 268.8 L420 268.4" fill="none" stroke="#111" stroke-width="1.0" stroke-linejoin="round" stroke-linecap="round" />
<path d="M410 271.4 L415 269.6 L421.8 267.7 L430 264 L440 259.8 L450 255.8 L460 252 L470 247.5 L478 244 L481 241.5 L483 239 L486 237" fill="none" stroke="#111" stroke-width="1.6" stroke-linejoin="round" stroke-linecap="round" />
<path d="M367.1 298.3 L375.3 305.4" fill="none" stroke="#333" stroke-width="0.9" stroke-linejoin="round" stroke-linecap="round" />
<path d="M375.3 298.6 L384 294.3 L389.9 290.8 L391.6 289 L389.3 286.7 L392.2 284.9 L386.5 286 L392 284.5" fill="none" stroke="#333" stroke-width="0.9" stroke-linejoin="round" stroke-linecap="round" />
<path d="M418.1 297.3 L417.8 292 L417.4 283 L417.8 278.2 L421.8 276 L420.9 274.3 L423.5 272.1 L421.8 270.8 L425.3 269" fill="none" stroke="#ff1a1a" stroke-width="0.9" stroke-linejoin="round" stroke-linecap="round" />
<path d="M425.3 269 L430 266.8 L440 262.4 L450 257 L460 252.3 L470 247.8 L478 244.2 L481 241.6 L483 239.1 L486 237" fill="none" stroke="#ff1a1a" stroke-width="1.1" stroke-linejoin="round" stroke-linecap="round" />
<path d="M338.8 241.9 L450 241.8 L460 241.5 L470 241 L478 240 L482 238.8 L485 237.6 L486 237" fill="none" stroke="#4a3fd0" stroke-width="1.5" stroke-linejoin="round" stroke-linecap="round" />
<path d="M406.5 290.2 L408.6 285.6 L411.3 283 L412.1 281.7 L410.4 280.4 L414.8 278.2 L411.3 276 L407.8 277.3 L411.3 275.1 L413.9 273.4 L415.6 272.1 L420 270.8" fill="none" stroke="#1a1aff" stroke-width="0.9" stroke-linejoin="round" stroke-linecap="round" />
<path d="M420 270.8 L424.4 268.1 L430 264.8 L440 260.5 L450 256.3 L460 251.8 L470 247.3 L478 243.8 L481 241.3 L483 238.9 L486 237 L490 236.5 L505 234.7 L523.5 232.7" fill="none" stroke="#1a1aff" stroke-width="1.4" stroke-linejoin="round" stroke-linecap="round" />
<ellipse cx="417.7" cy="58.9" rx="51.6" ry="22.9" transform="rotate(-20.1 417.7 58.9)" fill="none" stroke="#1e1e1e" stroke-width="1.2" stroke-dasharray="3.6 2.4"/>
<ellipse cx="429" cy="23" rx="37.5" ry="7.2" fill="none" stroke="#1e1e1e" stroke-width="1.2" stroke-dasharray="3.6 2.4"/>
<ellipse cx="475.5" cy="26.8" rx="6.5" ry="7" fill="none" stroke="#1e1e1e" stroke-width="1.2" stroke-dasharray="3.6 2.4"/>
<ellipse cx="513.5" cy="21.3" rx="24" ry="11.1" fill="none" stroke="#1e1e1e" stroke-width="1.2" stroke-dasharray="3.6 2.4"/>
<text x="443.4" y="66" font-size="9" text-anchor="middle" font-family='"Liberation Serif", serif' fill="#222" >I</text>
<text x="429.2" y="24.4" font-size="9" text-anchor="middle" font-family='"Liberation Serif", serif' fill="#222" >IV</text>
<text x="486.1" y="33.4" font-size="9" text-anchor="middle" font-family='"Liberation Serif", serif' fill="#222" >II</text>
<text x="514.3" y="27.4" font-size="9" text-anchor="middle" font-family='"Liberation Serif", serif' fill="#222" >III</text>
<rect x="486.5" y="61" width="51.8" height="29.2" fill="#fff" stroke="#c8c8c8" stroke-width="0.8"/>
<path d="M487.2 66.3 H505" stroke="#333333" stroke-width="1.65"/>
<text x="506.8" y="69.1" font-size="7.8" text-anchor="start" font-family='"Liberation Sans", sans-serif' fill="#262626" >S1 N = 1</text>
<path d="M487.2 75.7 H505" stroke="#ff2020" stroke-width="1.65"/>
<text x="506.8" y="78.5" font-size="7.8" text-anchor="start" font-family='"Liberation Sans", sans-serif' fill="#262626" >S1 N = 2</text>
<path d="M487.2 85.1 H505" stroke="#2020ff" stroke-width="1.65"/>
<text x="506.8" y="87.9" font-size="7.8" text-anchor="start" font-family='"Liberation Sans", sans-serif' fill="#262626" >S1 N = 3</text>
<rect x="486.5" y="170.4" width="51.8" height="29.2" fill="#fff" stroke="#c8c8c8" stroke-width="0.8"/>
<path d="M487.2 175.7 H505" stroke="#333333" stroke-width="1.65"/>
<text x="506.8" y="178.5" font-size="7.8" text-anchor="start" font-family='"Liberation Sans", sans-serif' fill="#262626" >S2 N = 1</text>
<path d="M487.2 185.1 H505" stroke="#ff2020" stroke-width="1.65"/>
<text x="506.8" y="187.9" font-size="7.8" text-anchor="start" font-family='"Liberation Sans", sans-serif' fill="#262626" >S2 N = 2</text>
<path d="M487.2 194.5 H505" stroke="#2020ff" stroke-width="1.65"/>
<text x="506.8" y="197.3" font-size="7.8" text-anchor="start" font-family='"Liberation Sans", sans-serif' fill="#262626" >S2 N = 3</text>
<rect x="486.5" y="279.8" width="51.8" height="29.2" fill="#fff" stroke="#c8c8c8" stroke-width="0.8"/>
<path d="M487.2 285.1 H505" stroke="#333333" stroke-width="1.65"/>
<text x="506.8" y="287.9" font-size="7.8" text-anchor="start" font-family='"Liberation Sans", sans-serif' fill="#262626" >S3 N = 1</text>
<path d="M487.2 294.5 H505" stroke="#ff2020" stroke-width="1.65"/>
<text x="506.8" y="297.3" font-size="7.8" text-anchor="start" font-family='"Liberation Sans", sans-serif' fill="#262626" >S3 N = 2</text>
<path d="M487.2 303.9 H505" stroke="#2020ff" stroke-width="1.65"/>
<text x="506.8" y="306.7" font-size="7.8" text-anchor="start" font-family='"Liberation Sans", sans-serif' fill="#262626" >S3 N = 3</text>
<text x="280.6" y="12.1" font-size="12.6" text-anchor="start" font-family='"Liberation Sans", sans-serif' fill="#262626" >(B)</text>
<text x="372" y="334.6" font-size="8.8" text-anchor="start" font-family='"Liberation Sans", sans-serif' fill="#262626" >Normalized peak stress (σ/E<tspan font-size="6" dy="2">s</tspan><tspan dy="-2">)</tspan></text>
<text transform="translate(290.0,155.7) rotate(-90)" font-size="8.75" text-anchor="middle" font-family='"Liberation Sans", sans-serif' fill="#262626">Normalized Energy (W/E<tspan font-size="6" dy="2">s</tspan><tspan dy="-2">)</tspan></text></svg>
</body></html>
